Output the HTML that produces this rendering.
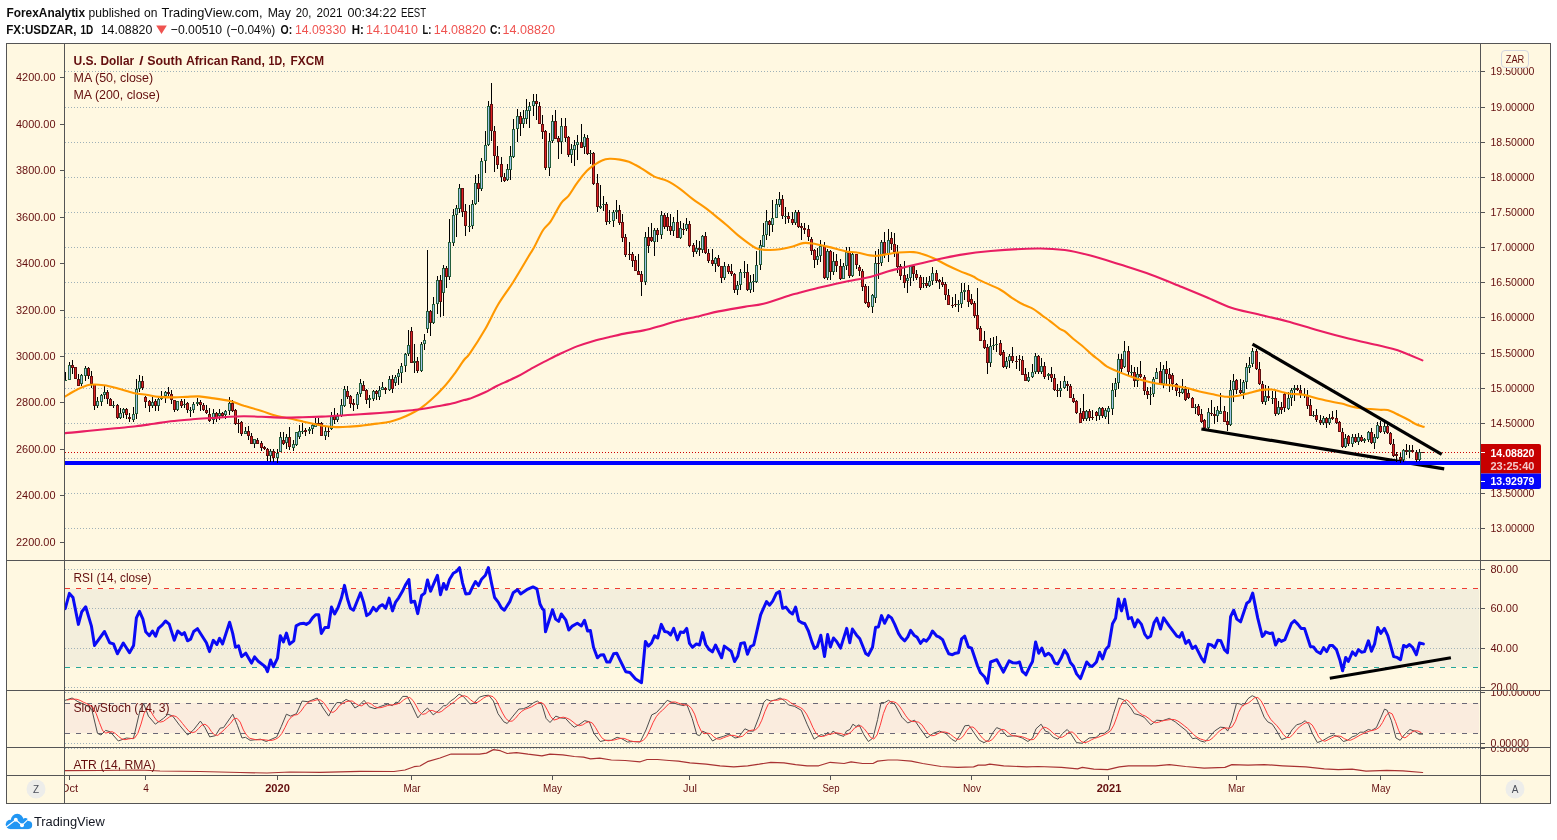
<!DOCTYPE html>
<html><head><meta charset="utf-8"><title>USDZAR chart</title>
<style>html,body{margin:0;padding:0;background:#fff;overflow:hidden}svg{display:block}</style>
</head><body>
<svg width="1557" height="840" viewBox="0 0 1557 840" font-family="'Liberation Sans', sans-serif">
<rect x="0" y="0" width="1557" height="840" fill="#ffffff" />
<rect x="6" y="43" width="1545" height="761" fill="#555555" />
<rect x="7" y="44" width="1543" height="759" fill="#fff8e1" />
<defs>
<clipPath id="cMain"><rect x="65" y="44" width="1415" height="516"/></clipPath>
<clipPath id="cRsi"><rect x="65" y="561" width="1415" height="129"/></clipPath>
<clipPath id="cSto"><rect x="65" y="691" width="1415" height="56"/></clipPath>
<clipPath id="cAtr"><rect x="65" y="748" width="1415" height="27"/></clipPath>
<clipPath id="cStoAx"><rect x="1481" y="691" width="69" height="56"/></clipPath>
<clipPath id="cAtrAx"><rect x="1481" y="748" width="69" height="27"/></clipPath>
<clipPath id="cRsiAx"><rect x="1481" y="561" width="69" height="129"/></clipPath>
<clipPath id="cTime"><rect x="65" y="776" width="1415" height="27"/></clipPath>
</defs>
<line x1="65" y1="71.5" x2="1479" y2="71.5" stroke="#9fb1b8" stroke-width="1" stroke-dasharray="1 2" shape-rendering="crispEdges"/>
<line x1="65" y1="107.5" x2="1479" y2="107.5" stroke="#9fb1b8" stroke-width="1" stroke-dasharray="1 2" shape-rendering="crispEdges"/>
<line x1="65" y1="142.5" x2="1479" y2="142.5" stroke="#9fb1b8" stroke-width="1" stroke-dasharray="1 2" shape-rendering="crispEdges"/>
<line x1="65" y1="177.5" x2="1479" y2="177.5" stroke="#9fb1b8" stroke-width="1" stroke-dasharray="1 2" shape-rendering="crispEdges"/>
<line x1="65" y1="212.5" x2="1479" y2="212.5" stroke="#9fb1b8" stroke-width="1" stroke-dasharray="1 2" shape-rendering="crispEdges"/>
<line x1="65" y1="247.5" x2="1479" y2="247.5" stroke="#9fb1b8" stroke-width="1" stroke-dasharray="1 2" shape-rendering="crispEdges"/>
<line x1="65" y1="282.5" x2="1479" y2="282.5" stroke="#9fb1b8" stroke-width="1" stroke-dasharray="1 2" shape-rendering="crispEdges"/>
<line x1="65" y1="317.5" x2="1479" y2="317.5" stroke="#9fb1b8" stroke-width="1" stroke-dasharray="1 2" shape-rendering="crispEdges"/>
<line x1="65" y1="353.5" x2="1479" y2="353.5" stroke="#9fb1b8" stroke-width="1" stroke-dasharray="1 2" shape-rendering="crispEdges"/>
<line x1="65" y1="388.5" x2="1479" y2="388.5" stroke="#9fb1b8" stroke-width="1" stroke-dasharray="1 2" shape-rendering="crispEdges"/>
<line x1="65" y1="423.5" x2="1479" y2="423.5" stroke="#9fb1b8" stroke-width="1" stroke-dasharray="1 2" shape-rendering="crispEdges"/>
<line x1="65" y1="458.5" x2="1479" y2="458.5" stroke="#9fb1b8" stroke-width="1" stroke-dasharray="1 2" shape-rendering="crispEdges"/>
<line x1="65" y1="493.5" x2="1479" y2="493.5" stroke="#9fb1b8" stroke-width="1" stroke-dasharray="1 2" shape-rendering="crispEdges"/>
<line x1="65" y1="528.5" x2="1479" y2="528.5" stroke="#9fb1b8" stroke-width="1" stroke-dasharray="1 2" shape-rendering="crispEdges"/>
<rect x="65" y="589" width="1414" height="78" fill="#f3eedc" />
<line x1="65" y1="569.5" x2="1479" y2="569.5" stroke="#9fb1b8" stroke-width="1" stroke-dasharray="1 2" shape-rendering="crispEdges"/>
<line x1="65" y1="608.5" x2="1479" y2="608.5" stroke="#9fb1b8" stroke-width="1" stroke-dasharray="1 2" shape-rendering="crispEdges"/>
<line x1="65" y1="648.5" x2="1479" y2="648.5" stroke="#9fb1b8" stroke-width="1" stroke-dasharray="1 2" shape-rendering="crispEdges"/>
<line x1="65" y1="687.5" x2="1479" y2="687.5" stroke="#9fb1b8" stroke-width="1" stroke-dasharray="1 2" shape-rendering="crispEdges"/>
<line x1="65" y1="588.5" x2="1479" y2="588.5" stroke="#ef3b32" stroke-width="1" stroke-dasharray="5 6" shape-rendering="crispEdges"/>
<line x1="65" y1="667.5" x2="1479" y2="667.5" stroke="#26a69a" stroke-width="1" stroke-dasharray="5 6" shape-rendering="crispEdges"/>
<rect x="65" y="703" width="1414" height="30" fill="#faecde" />
<g clip-path="url(#cSto)">
<line x1="65" y1="692.5" x2="1479" y2="692.5" stroke="#9fb1b8" stroke-width="1" stroke-dasharray="1 2" shape-rendering="crispEdges"/>
<line x1="65" y1="743.5" x2="1479" y2="743.5" stroke="#9fb1b8" stroke-width="1" stroke-dasharray="1 2" shape-rendering="crispEdges"/>
</g>
<line x1="65" y1="703.5" x2="1479" y2="703.5" stroke="#6a6876" stroke-width="1" stroke-dasharray="5 6" shape-rendering="crispEdges"/>
<line x1="65" y1="733.5" x2="1479" y2="733.5" stroke="#6a6876" stroke-width="1" stroke-dasharray="5 6" shape-rendering="crispEdges"/>
<line x1="65" y1="748.5" x2="1479" y2="748.5" stroke="#9fb1b8" stroke-width="1" stroke-dasharray="1 2" shape-rendering="crispEdges"/>
<g clip-path="url(#cMain)" id="main">
<line x1="65" y1="452.5" x2="1480" y2="452.5" stroke="#cc0000" stroke-width="1" stroke-dasharray="1 2" shape-rendering="crispEdges"/>
<line x1="1201.4" y1="429" x2="1444.2" y2="468.8" stroke="#000000" stroke-width="3.2"/>
<rect x="65" y="461" width="1415" height="4" fill="#0000ff"/>
<path d="M65 372h1v9h-1zM69 362h1v18h-1zM72 360h1v14h-1zM75 367h1v12h-1zM78 374h1v12h-1zM81 374h1v12h-1zM85 366h1v15h-1zM88 367h1v12h-1zM91 371h1v17h-1zM94 384h1v26h-1zM97 397h1v11h-1zM101 394h1v12h-1zM104 386h1v13h-1zM107 390h1v14h-1zM110 398h1v8h-1zM113 401h1v7h-1zM117 404h1v15h-1zM120 408h1v11h-1zM123 408h1v10h-1zM126 408h1v11h-1zM129 413h1v9h-1zM133 407h1v15h-1zM136 379h1v40h-1zM139 375h1v17h-1zM142 376h1v14h-1zM145 396h1v12h-1zM149 400h1v12h-1zM152 397h1v11h-1zM155 399h1v12h-1zM158 398h1v13h-1zM161 391h1v9h-1zM165 391h1v12h-1zM168 387h1v9h-1zM171 390h1v14h-1zM174 400h1v12h-1zM177 401h1v10h-1zM181 399h1v9h-1zM184 399h1v9h-1zM187 402h1v11h-1zM190 407h1v10h-1zM193 402h1v11h-1zM197 398h1v8h-1zM200 400h1v11h-1zM203 403h1v8h-1zM206 405h1v9h-1zM209 408h1v14h-1zM213 409h1v15h-1zM216 412h1v10h-1zM219 409h1v11h-1zM222 412h1v6h-1zM225 410h1v9h-1zM229 397h1v18h-1zM232 400h1v12h-1zM235 409h1v16h-1zM238 419h1v14h-1zM241 421h1v15h-1zM245 427h1v7h-1zM248 426h1v14h-1zM251 433h1v11h-1zM254 439h1v9h-1zM257 438h1v6h-1zM261 441h1v10h-1zM264 446h1v4h-1zM267 448h1v13h-1zM270 449h1v13h-1zM273 449h1v13h-1zM277 449h1v14h-1zM280 432h1v20h-1zM283 432h1v13h-1zM286 434h1v15h-1zM289 427h1v23h-1zM293 440h1v11h-1zM296 432h1v14h-1zM299 425h1v14h-1zM302 423h1v11h-1zM305 428h1v8h-1zM309 427h1v7h-1zM312 424h1v10h-1zM315 418h1v9h-1zM318 418h1v8h-1zM321 422h1v14h-1zM325 427h1v13h-1zM328 427h1v10h-1zM331 412h1v18h-1zM334 408h1v16h-1zM337 413h1v9h-1zM341 399h1v18h-1zM344 386h1v21h-1zM347 386h1v13h-1zM350 395h1v13h-1zM353 399h1v12h-1zM357 392h1v17h-1zM360 379h1v18h-1zM363 381h1v10h-1zM366 389h1v15h-1zM369 395h1v13h-1zM373 390h1v11h-1zM376 390h1v10h-1zM379 386h1v14h-1zM382 382h1v8h-1zM385 387h1v7h-1zM389 376h1v15h-1zM392 375h1v18h-1zM395 375h1v11h-1zM398 369h1v16h-1zM401 363h1v20h-1zM405 353h1v19h-1zM408 330h1v26h-1zM411 327h1v36h-1zM414 344h1v29h-1zM417 357h1v16h-1zM421 342h1v30h-1zM424 334h1v16h-1zM427 250h1v83h-1zM430 310h1v26h-1zM433 297h1v27h-1zM437 276h1v38h-1zM440 275h1v42h-1zM443 265h1v51h-1zM446 266h1v22h-1zM449 219h1v61h-1zM453 209h1v37h-1zM456 205h1v32h-1zM459 184h1v29h-1zM462 188h1v29h-1zM465 204h1v32h-1zM469 205h1v27h-1zM472 200h1v29h-1zM475 175h1v30h-1zM478 174h1v28h-1zM481 158h1v33h-1zM485 131h1v42h-1zM488 101h1v45h-1zM491 83h1v58h-1zM494 126h1v46h-1zM497 146h1v23h-1zM501 157h1v25h-1zM504 173h1v9h-1zM507 164h1v17h-1zM510 146h1v34h-1zM513 119h1v39h-1zM517 109h1v33h-1zM520 112h1v24h-1zM523 110h1v18h-1zM526 99h1v25h-1zM529 102h1v26h-1zM533 94h1v22h-1zM536 94h1v26h-1zM539 102h1v22h-1zM542 115h1v24h-1zM545 130h1v40h-1zM549 133h1v43h-1zM552 115h1v28h-1zM555 110h1v29h-1zM558 136h1v23h-1zM561 118h1v36h-1zM565 118h1v24h-1zM568 136h1v21h-1zM571 144h1v19h-1zM574 140h1v26h-1zM577 135h1v25h-1zM581 124h1v24h-1zM584 134h1v20h-1zM587 135h1v20h-1zM590 150h1v14h-1zM593 152h1v33h-1zM597 174h1v38h-1zM600 185h1v24h-1zM603 196h1v15h-1zM606 202h1v23h-1zM609 210h1v14h-1zM613 210h1v17h-1zM616 200h1v19h-1zM619 205h1v20h-1zM622 214h1v28h-1zM625 234h1v23h-1zM629 242h1v18h-1zM632 252h1v15h-1zM635 256h1v15h-1zM638 254h1v21h-1zM641 271h1v25h-1zM645 232h1v53h-1zM648 227h1v26h-1zM651 223h1v19h-1zM654 228h1v28h-1zM657 228h1v14h-1zM661 211h1v28h-1zM664 213h1v16h-1zM667 213h1v18h-1zM670 214h1v21h-1zM673 217h1v19h-1zM677 210h1v28h-1zM680 221h1v18h-1zM683 223h1v12h-1zM686 218h1v13h-1zM689 221h1v26h-1zM693 243h1v14h-1zM696 240h1v14h-1zM699 241h1v15h-1zM702 235h1v18h-1zM705 232h1v22h-1zM708 249h1v14h-1zM712 249h1v17h-1zM715 257h1v15h-1zM718 255h1v12h-1zM721 266h1v17h-1zM724 262h1v18h-1zM728 264h1v10h-1zM731 264h1v12h-1zM734 273h1v20h-1zM737 281h1v14h-1zM740 269h1v21h-1zM744 261h1v17h-1zM747 264h1v27h-1zM750 275h1v18h-1zM753 274h1v18h-1zM756 251h1v32h-1zM760 240h1v30h-1zM763 223h1v24h-1zM766 210h1v30h-1zM769 220h1v16h-1zM772 200h1v32h-1zM776 199h1v19h-1zM779 192h1v15h-1zM782 195h1v24h-1zM785 207h1v17h-1zM788 212h1v11h-1zM792 212h1v13h-1zM795 210h1v15h-1zM798 210h1v18h-1zM801 223h1v17h-1zM804 223h1v11h-1zM808 225h1v16h-1zM811 237h1v18h-1zM814 249h1v19h-1zM817 248h1v17h-1zM820 240h1v22h-1zM824 242h1v37h-1zM827 249h1v31h-1zM830 250h1v30h-1zM833 252h1v23h-1zM836 254h1v18h-1zM840 259h1v21h-1zM843 263h1v16h-1zM846 247h1v23h-1zM849 247h1v31h-1zM852 253h1v24h-1zM856 254h1v15h-1zM859 265h1v11h-1zM862 269h1v22h-1zM865 284h1v20h-1zM868 286h1v22h-1zM872 294h1v19h-1zM875 251h1v52h-1zM878 249h1v30h-1zM881 240h1v26h-1zM884 232h1v26h-1zM888 229h1v33h-1zM891 232h1v18h-1zM894 233h1v24h-1zM897 245h1v28h-1zM900 264h1v16h-1zM904 261h1v27h-1zM907 274h1v19h-1zM910 266h1v20h-1zM913 265h1v16h-1zM916 270h1v10h-1zM920 275h1v15h-1zM923 277h1v11h-1zM926 277h1v11h-1zM929 276h1v11h-1zM932 267h1v18h-1zM936 270h1v13h-1zM939 279h1v10h-1zM942 277h1v10h-1zM945 282h1v18h-1zM948 289h1v16h-1zM952 297h1v11h-1zM955 294h1v13h-1zM958 300h1v12h-1zM961 283h1v25h-1zM964 283h1v17h-1zM968 285h1v22h-1zM971 294h1v11h-1zM974 301h1v17h-1zM977 288h1v42h-1zM980 326h1v15h-1zM984 331h1v18h-1zM987 344h1v30h-1zM990 338h1v29h-1zM993 337h1v13h-1zM996 336h1v16h-1zM1000 340h1v16h-1zM1003 350h1v18h-1zM1006 357h1v12h-1zM1009 354h1v14h-1zM1012 347h1v16h-1zM1016 356h1v13h-1zM1019 355h1v16h-1zM1022 356h1v19h-1zM1025 368h1v13h-1zM1028 372h1v10h-1zM1032 364h1v14h-1zM1035 353h1v21h-1zM1038 355h1v19h-1zM1041 358h1v16h-1zM1044 362h1v17h-1zM1048 373h1v7h-1zM1051 367h1v15h-1zM1054 374h1v17h-1zM1057 384h1v13h-1zM1060 381h1v16h-1zM1064 376h1v13h-1zM1067 381h1v10h-1zM1070 384h1v14h-1zM1073 394h1v9h-1zM1076 400h1v14h-1zM1080 408h1v15h-1zM1083 394h1v27h-1zM1086 410h1v11h-1zM1089 409h1v12h-1zM1092 410h1v10h-1zM1096 411h1v10h-1zM1099 407h1v13h-1zM1102 407h1v11h-1zM1105 408h1v11h-1zM1108 406h1v18h-1zM1112 383h1v32h-1zM1115 378h1v19h-1zM1118 354h1v35h-1zM1121 354h1v18h-1zM1124 341h1v27h-1zM1128 346h1v29h-1zM1131 365h1v11h-1zM1134 367h1v20h-1zM1137 367h1v20h-1zM1140 361h1v17h-1zM1144 375h1v20h-1zM1147 387h1v12h-1zM1150 387h1v18h-1zM1153 377h1v20h-1zM1156 368h1v11h-1zM1160 362h1v22h-1zM1163 365h1v23h-1zM1166 361h1v24h-1zM1169 368h1v24h-1zM1172 373h1v17h-1zM1176 383h1v13h-1zM1179 387h1v10h-1zM1182 379h1v15h-1zM1185 386h1v15h-1zM1188 389h1v10h-1zM1192 397h1v11h-1zM1195 404h1v10h-1zM1198 404h1v12h-1zM1201 409h1v14h-1zM1204 419h1v10h-1zM1208 408h1v21h-1zM1211 400h1v16h-1zM1214 407h1v17h-1zM1217 406h1v16h-1zM1220 393h1v21h-1zM1224 406h1v16h-1zM1227 412h1v19h-1zM1230 380h1v46h-1zM1233 374h1v28h-1zM1236 379h1v15h-1zM1240 379h1v15h-1zM1243 380h1v19h-1zM1246 363h1v26h-1zM1249 357h1v16h-1zM1252 348h1v19h-1zM1256 349h1v21h-1zM1259 362h1v23h-1zM1262 381h1v23h-1zM1265 385h1v20h-1zM1268 386h1v15h-1zM1272 391h1v13h-1zM1275 391h1v25h-1zM1278 401h1v14h-1zM1281 402h1v12h-1zM1284 392h1v20h-1zM1288 392h1v18h-1zM1291 388h1v18h-1zM1294 385h1v16h-1zM1297 385h1v6h-1zM1300 385h1v13h-1zM1304 388h1v10h-1zM1307 390h1v19h-1zM1310 399h1v17h-1zM1313 411h1v6h-1zM1316 409h1v13h-1zM1320 415h1v10h-1zM1323 416h1v9h-1zM1326 417h1v11h-1zM1329 414h1v11h-1zM1332 411h1v9h-1zM1336 410h1v14h-1zM1339 421h1v11h-1zM1342 428h1v20h-1zM1345 434h1v14h-1zM1348 435h1v11h-1zM1352 434h1v13h-1zM1355 434h1v9h-1zM1358 433h1v12h-1zM1361 435h1v7h-1zM1364 438h1v5h-1zM1368 431h1v11h-1zM1371 428h1v16h-1zM1374 434h1v15h-1zM1377 422h1v17h-1zM1380 421h1v12h-1zM1384 422h1v12h-1zM1387 424h1v10h-1zM1390 432h1v13h-1zM1393 439h1v18h-1zM1396 452h1v10h-1zM1400 453h1v10h-1zM1403 449h1v13h-1zM1406 444h1v11h-1zM1409 445h1v13h-1zM1412 445h1v7h-1zM1416 450h1v12h-1zM1419 449h1v12h-1zM1422 452h1v1h-1z" fill="#000000" shape-rendering="crispEdges"/>
<path d="M64 380h3v1h-3zM68 365h3v15h-3zM80 375h3v9h-3zM84 368h3v8h-3zM96 401h3v5h-3zM100 395h3v7h-3zM103 392h3v3h-3zM112 405h3v1h-3zM119 413h3v5h-3zM122 409h3v4h-3zM132 414h3v6h-3zM135 389h3v25h-3zM138 381h3v8h-3zM151 402h3v4h-3zM157 399h3v7h-3zM160 396h3v3h-3zM164 392h3v4h-3zM176 401h3v9h-3zM183 404h3v1h-3zM189 410h3v1h-3zM192 404h3v6h-3zM196 402h3v2h-3zM212 413h3v7h-3zM218 413h3v3h-3zM224 411h3v4h-3zM228 403h3v8h-3zM244 431h3v3h-3zM253 439h3v5h-3zM269 451h3v5h-3zM276 453h3v5h-3zM279 437h3v15h-3zM285 437h3v6h-3zM292 444h3v4h-3zM295 432h3v13h-3zM298 431h3v6h-3zM301 431h3v1h-3zM308 429h3v2h-3zM311 425h3v4h-3zM314 423h3v4h-3zM324 431h3v5h-3zM330 416h3v13h-3zM336 416h3v4h-3zM340 405h3v11h-3zM343 389h3v17h-3zM356 394h3v11h-3zM359 383h3v11h-3zM368 398h3v2h-3zM372 391h3v8h-3zM378 390h3v7h-3zM381 387h3v3h-3zM388 379h3v11h-3zM394 377h3v6h-3zM397 373h3v4h-3zM400 366h3v7h-3zM404 354h3v12h-3zM407 345h3v9h-3zM413 361h3v2h-3zM420 344h3v27h-3zM423 340h3v4h-3zM426 311h3v18h-3zM432 304h3v19h-3zM436 280h3v24h-3zM442 268h3v25h-3zM448 242h3v35h-3zM452 215h3v28h-3zM455 208h3v7h-3zM458 188h3v21h-3zM468 226h3v1h-3zM471 204h3v22h-3zM474 183h3v21h-3zM480 161h3v28h-3zM484 145h3v16h-3zM487 106h3v39h-3zM506 169h3v11h-3zM509 156h3v14h-3zM512 129h3v28h-3zM516 116h3v13h-3zM522 118h3v6h-3zM525 110h3v9h-3zM528 106h3v5h-3zM532 101h3v5h-3zM548 141h3v27h-3zM551 121h3v20h-3zM560 126h3v16h-3zM570 149h3v6h-3zM573 145h3v5h-3zM576 142h3v3h-3zM583 137h3v10h-3zM589 153h3v1h-3zM599 206h3v2h-3zM602 204h3v1h-3zM608 221h3v1h-3zM612 212h3v9h-3zM615 210h3v2h-3zM644 237h3v45h-3zM653 230h3v12h-3zM660 215h3v20h-3zM672 222h3v9h-3zM679 228h3v10h-3zM685 224h3v5h-3zM695 248h3v4h-3zM701 236h3v14h-3zM714 258h3v6h-3zM723 266h3v12h-3zM736 285h3v5h-3zM739 272h3v13h-3zM743 272h3v1h-3zM749 282h3v8h-3zM752 281h3v1h-3zM755 265h3v17h-3zM759 245h3v20h-3zM762 235h3v12h-3zM765 221h3v14h-3zM771 218h3v7h-3zM775 204h3v14h-3zM778 199h3v6h-3zM784 216h3v1h-3zM794 212h3v11h-3zM816 256h3v4h-3zM819 246h3v10h-3zM826 251h3v27h-3zM832 261h3v11h-3zM842 266h3v13h-3zM845 252h3v14h-3zM851 254h3v22h-3zM871 295h3v12h-3zM874 263h3v35h-3zM880 242h3v21h-3zM887 240h3v14h-3zM906 278h3v3h-3zM909 266h3v12h-3zM922 283h3v1h-3zM928 281h3v5h-3zM931 273h3v8h-3zM957 304h3v1h-3zM960 292h3v12h-3zM963 290h3v2h-3zM989 346h3v17h-3zM992 345h3v1h-3zM995 344h3v1h-3zM1005 361h3v6h-3zM1008 356h3v5h-3zM1027 377h3v4h-3zM1031 372h3v5h-3zM1034 356h3v16h-3zM1040 366h3v6h-3zM1047 374h3v2h-3zM1059 388h3v3h-3zM1063 381h3v7h-3zM1085 411h3v8h-3zM1098 408h3v8h-3zM1104 410h3v7h-3zM1107 408h3v4h-3zM1111 390h3v19h-3zM1114 383h3v7h-3zM1117 359h3v24h-3zM1123 351h3v16h-3zM1130 372h3v1h-3zM1136 374h3v7h-3zM1149 394h3v1h-3zM1152 379h3v15h-3zM1155 372h3v7h-3zM1162 369h3v15h-3zM1181 389h3v4h-3zM1194 407h3v1h-3zM1207 412h3v16h-3zM1216 410h3v6h-3zM1219 411h3v3h-3zM1229 390h3v35h-3zM1232 381h3v9h-3zM1242 382h3v11h-3zM1245 367h3v15h-3zM1248 365h3v3h-3zM1251 351h3v13h-3zM1264 396h3v6h-3zM1271 398h3v1h-3zM1277 407h3v7h-3zM1287 398h3v11h-3zM1290 390h3v8h-3zM1293 388h3v2h-3zM1312 415h3v1h-3zM1322 418h3v5h-3zM1328 418h3v5h-3zM1344 438h3v9h-3zM1351 437h3v7h-3zM1357 437h3v5h-3zM1363 439h3v2h-3zM1367 432h3v8h-3zM1373 437h3v6h-3zM1376 425h3v13h-3zM1383 426h3v6h-3zM1402 450h3v10h-3zM1408 450h3v2h-3zM1418 452h3v8h-3z" fill="#245f3c" shape-rendering="crispEdges"/>
<path d="M71 365h3v3h-3zM74 367h3v12h-3zM77 379h3v7h-3zM87 368h3v8h-3zM90 376h3v8h-3zM93 384h3v22h-3zM106 392h3v7h-3zM109 399h3v7h-3zM116 405h3v13h-3zM125 409h3v6h-3zM128 417h3v2h-3zM141 381h3v7h-3zM144 397h3v5h-3zM148 401h3v5h-3zM154 401h3v5h-3zM167 392h3v2h-3zM170 394h3v6h-3zM173 400h3v10h-3zM180 401h3v5h-3zM186 403h3v7h-3zM199 402h3v3h-3zM202 405h3v5h-3zM205 410h3v3h-3zM208 414h3v7h-3zM215 413h3v5h-3zM221 413h3v3h-3zM231 403h3v8h-3zM234 410h3v14h-3zM237 423h3v1h-3zM240 422h3v12h-3zM247 431h3v5h-3zM250 436h3v8h-3zM256 440h3v4h-3zM260 443h3v5h-3zM263 447h3v2h-3zM266 449h3v7h-3zM272 451h3v7h-3zM282 440h3v4h-3zM288 437h3v10h-3zM304 430h3v2h-3zM317 423h3v1h-3zM320 423h3v13h-3zM327 431h3v1h-3zM333 416h3v4h-3zM346 391h3v6h-3zM349 396h3v8h-3zM352 403h3v2h-3zM362 385h3v6h-3zM365 390h3v10h-3zM375 391h3v3h-3zM384 388h3v2h-3zM391 379h3v10h-3zM410 331h3v32h-3zM416 361h3v10h-3zM429 311h3v12h-3zM439 280h3v22h-3zM445 268h3v9h-3zM461 188h3v24h-3zM464 211h3v15h-3zM477 183h3v6h-3zM490 104h3v27h-3zM493 131h3v25h-3zM496 156h3v9h-3zM500 164h3v13h-3zM503 177h3v4h-3zM519 116h3v8h-3zM535 101h3v3h-3zM538 106h3v18h-3zM541 124h3v8h-3zM544 131h3v37h-3zM554 121h3v18h-3zM557 138h3v4h-3zM564 126h3v12h-3zM567 137h3v18h-3zM580 142h3v6h-3zM586 138h3v16h-3zM592 153h3v31h-3zM596 183h3v24h-3zM605 204h3v18h-3zM618 210h3v13h-3zM621 222h3v16h-3zM624 237h3v18h-3zM628 254h3v1h-3zM631 254h3v7h-3zM634 260h3v11h-3zM637 271h3v4h-3zM640 274h3v8h-3zM647 237h3v9h-3zM650 237h3v4h-3zM656 230h3v5h-3zM663 215h3v12h-3zM666 217h3v10h-3zM669 226h3v5h-3zM676 222h3v16h-3zM682 229h3v1h-3zM688 224h3v22h-3zM692 245h3v7h-3zM698 248h3v2h-3zM704 236h3v17h-3zM707 253h3v8h-3zM711 260h3v4h-3zM717 258h3v8h-3zM720 266h3v12h-3zM727 266h3v6h-3zM730 271h3v3h-3zM733 274h3v16h-3zM746 272h3v18h-3zM768 221h3v4h-3zM781 199h3v17h-3zM787 216h3v3h-3zM791 219h3v4h-3zM797 212h3v15h-3zM800 226h3v2h-3zM803 228h3v2h-3zM807 229h3v8h-3zM810 239h3v12h-3zM813 250h3v10h-3zM823 246h3v32h-3zM829 251h3v21h-3zM835 261h3v5h-3zM839 266h3v13h-3zM848 252h3v24h-3zM855 254h3v11h-3zM858 267h3v4h-3zM861 271h3v16h-3zM864 286h3v17h-3zM867 302h3v5h-3zM877 263h3v1h-3zM883 242h3v12h-3zM890 238h3v6h-3zM893 244h3v8h-3zM896 252h3v15h-3zM899 266h3v10h-3zM903 275h3v8h-3zM912 266h3v8h-3zM915 274h3v4h-3zM919 277h3v11h-3zM925 283h3v3h-3zM935 273h3v8h-3zM938 280h3v2h-3zM941 282h3v3h-3zM944 284h3v11h-3zM947 295h3v10h-3zM951 305h3v1h-3zM954 304h3v1h-3zM967 290h3v12h-3zM970 299h3v5h-3zM973 303h3v13h-3zM976 315h3v14h-3zM979 328h3v13h-3zM983 340h3v8h-3zM986 347h3v16h-3zM999 343h3v12h-3zM1002 352h3v15h-3zM1011 356h3v5h-3zM1015 361h3v1h-3zM1018 359h3v1h-3zM1021 360h3v15h-3zM1024 374h3v7h-3zM1037 356h3v16h-3zM1043 366h3v11h-3zM1050 374h3v4h-3zM1053 378h3v12h-3zM1056 390h3v1h-3zM1066 384h3v2h-3zM1069 386h3v12h-3zM1072 398h3v4h-3zM1075 401h3v12h-3zM1079 413h3v10h-3zM1082 411h3v8h-3zM1088 411h3v7h-3zM1091 417h3v1h-3zM1095 412h3v4h-3zM1101 408h3v8h-3zM1120 359h3v10h-3zM1127 351h3v21h-3zM1133 372h3v9h-3zM1139 374h3v3h-3zM1143 377h3v14h-3zM1146 391h3v4h-3zM1159 371h3v13h-3zM1165 369h3v5h-3zM1168 374h3v5h-3zM1171 375h3v9h-3zM1175 384h3v7h-3zM1178 392h3v1h-3zM1184 389h3v11h-3zM1187 393h3v5h-3zM1191 398h3v10h-3zM1197 406h3v9h-3zM1200 414h3v8h-3zM1203 420h3v8h-3zM1210 413h3v1h-3zM1213 414h3v2h-3zM1223 411h3v11h-3zM1226 421h3v4h-3zM1235 380h3v10h-3zM1239 390h3v3h-3zM1255 351h3v18h-3zM1258 369h3v15h-3zM1261 384h3v18h-3zM1267 396h3v2h-3zM1274 398h3v16h-3zM1280 407h3v3h-3zM1283 394h3v14h-3zM1296 388h3v2h-3zM1299 390h3v4h-3zM1303 394h3v1h-3zM1306 396h3v10h-3zM1309 405h3v11h-3zM1315 415h3v5h-3zM1319 420h3v3h-3zM1325 418h3v5h-3zM1331 417h3v2h-3zM1335 418h3v5h-3zM1338 422h3v10h-3zM1341 432h3v15h-3zM1347 436h3v8h-3zM1354 437h3v5h-3zM1360 437h3v4h-3zM1370 432h3v11h-3zM1379 426h3v6h-3zM1386 426h3v7h-3zM1389 433h3v11h-3zM1392 444h3v12h-3zM1395 454h3v2h-3zM1399 457h3v3h-3zM1405 450h3v2h-3zM1411 450h3v2h-3zM1415 452h3v8h-3zM1421 452h3v1h-3z" fill="#5e1010" shape-rendering="crispEdges"/>
<path d="M69 366h1v13h-1zM81 376h1v7h-1zM85 369h1v6h-1zM97 402h1v3h-1zM101 396h1v5h-1zM104 393h1v1h-1zM120 414h1v3h-1zM123 410h1v2h-1zM133 415h1v4h-1zM136 390h1v23h-1zM139 382h1v6h-1zM152 403h1v2h-1zM158 400h1v5h-1zM161 397h1v1h-1zM165 393h1v2h-1zM177 402h1v7h-1zM193 405h1v4h-1zM213 414h1v5h-1zM219 414h1v1h-1zM225 412h1v2h-1zM229 404h1v6h-1zM245 432h1v1h-1zM254 440h1v3h-1zM270 452h1v3h-1zM277 454h1v3h-1zM280 438h1v13h-1zM286 438h1v4h-1zM293 445h1v2h-1zM296 433h1v11h-1zM299 432h1v4h-1zM312 426h1v2h-1zM315 424h1v2h-1zM325 432h1v3h-1zM331 417h1v11h-1zM337 417h1v2h-1zM341 406h1v9h-1zM344 390h1v15h-1zM357 395h1v9h-1zM360 384h1v9h-1zM373 392h1v6h-1zM379 391h1v5h-1zM382 388h1v1h-1zM389 380h1v9h-1zM395 378h1v4h-1zM398 374h1v2h-1zM401 367h1v5h-1zM405 355h1v10h-1zM408 346h1v7h-1zM421 345h1v25h-1zM424 341h1v2h-1zM427 312h1v16h-1zM433 305h1v17h-1zM437 281h1v22h-1zM443 269h1v23h-1zM449 243h1v33h-1zM453 216h1v26h-1zM456 209h1v5h-1zM459 189h1v19h-1zM472 205h1v20h-1zM475 184h1v19h-1zM481 162h1v26h-1zM485 146h1v14h-1zM488 107h1v37h-1zM507 170h1v9h-1zM510 157h1v12h-1zM513 130h1v26h-1zM517 117h1v11h-1zM523 119h1v4h-1zM526 111h1v7h-1zM529 107h1v3h-1zM533 102h1v3h-1zM549 142h1v25h-1zM552 122h1v18h-1zM561 127h1v14h-1zM571 150h1v4h-1zM574 146h1v3h-1zM577 143h1v1h-1zM584 138h1v8h-1zM613 213h1v7h-1zM645 238h1v43h-1zM654 231h1v10h-1zM661 216h1v18h-1zM673 223h1v7h-1zM680 229h1v8h-1zM686 225h1v3h-1zM696 249h1v2h-1zM702 237h1v12h-1zM715 259h1v4h-1zM724 267h1v10h-1zM737 286h1v3h-1zM740 273h1v11h-1zM750 283h1v6h-1zM756 266h1v15h-1zM760 246h1v18h-1zM763 236h1v10h-1zM766 222h1v12h-1zM772 219h1v5h-1zM776 205h1v12h-1zM779 200h1v4h-1zM795 213h1v9h-1zM817 257h1v2h-1zM820 247h1v8h-1zM827 252h1v25h-1zM833 262h1v9h-1zM843 267h1v11h-1zM846 253h1v12h-1zM852 255h1v20h-1zM872 296h1v10h-1zM875 264h1v33h-1zM881 243h1v19h-1zM888 241h1v12h-1zM907 279h1v1h-1zM910 267h1v10h-1zM929 282h1v3h-1zM932 274h1v6h-1zM961 293h1v10h-1zM990 347h1v15h-1zM1006 362h1v4h-1zM1009 357h1v3h-1zM1028 378h1v2h-1zM1032 373h1v3h-1zM1035 357h1v14h-1zM1041 367h1v4h-1zM1060 389h1v1h-1zM1064 382h1v5h-1zM1086 412h1v6h-1zM1099 409h1v6h-1zM1105 411h1v5h-1zM1108 409h1v2h-1zM1112 391h1v17h-1zM1115 384h1v5h-1zM1118 360h1v22h-1zM1124 352h1v14h-1zM1137 375h1v5h-1zM1153 380h1v13h-1zM1156 373h1v5h-1zM1163 370h1v13h-1zM1182 390h1v2h-1zM1208 413h1v14h-1zM1217 411h1v4h-1zM1220 412h1v1h-1zM1230 391h1v33h-1zM1233 382h1v7h-1zM1243 383h1v9h-1zM1246 368h1v13h-1zM1249 366h1v1h-1zM1252 352h1v11h-1zM1265 397h1v4h-1zM1278 408h1v5h-1zM1288 399h1v9h-1zM1291 391h1v6h-1zM1323 419h1v3h-1zM1329 419h1v3h-1zM1345 439h1v7h-1zM1352 438h1v5h-1zM1358 438h1v3h-1zM1368 433h1v6h-1zM1374 438h1v4h-1zM1377 426h1v11h-1zM1384 427h1v4h-1zM1403 451h1v8h-1zM1419 453h1v6h-1z" fill="#9fc5ea" shape-rendering="crispEdges"/>
<path d="M72 366h1v1h-1zM75 368h1v10h-1zM78 380h1v5h-1zM88 369h1v6h-1zM91 377h1v6h-1zM94 385h1v20h-1zM107 393h1v5h-1zM110 400h1v5h-1zM117 406h1v11h-1zM126 410h1v4h-1zM142 382h1v5h-1zM145 398h1v3h-1zM149 402h1v3h-1zM155 402h1v3h-1zM171 395h1v4h-1zM174 401h1v8h-1zM181 402h1v3h-1zM187 404h1v5h-1zM200 403h1v1h-1zM203 406h1v3h-1zM206 411h1v1h-1zM209 415h1v5h-1zM216 414h1v3h-1zM222 414h1v1h-1zM232 404h1v6h-1zM235 411h1v12h-1zM241 423h1v10h-1zM248 432h1v3h-1zM251 437h1v6h-1zM257 441h1v2h-1zM261 444h1v3h-1zM267 450h1v5h-1zM273 452h1v5h-1zM283 441h1v2h-1zM289 438h1v8h-1zM321 424h1v11h-1zM334 417h1v2h-1zM347 392h1v4h-1zM350 397h1v6h-1zM363 386h1v4h-1zM366 391h1v8h-1zM376 392h1v1h-1zM392 380h1v8h-1zM411 332h1v30h-1zM417 362h1v8h-1zM430 312h1v10h-1zM440 281h1v20h-1zM446 269h1v7h-1zM462 189h1v22h-1zM465 212h1v13h-1zM478 184h1v4h-1zM491 105h1v25h-1zM494 132h1v23h-1zM497 157h1v7h-1zM501 165h1v11h-1zM504 178h1v2h-1zM520 117h1v6h-1zM536 102h1v1h-1zM539 107h1v16h-1zM542 125h1v6h-1zM545 132h1v35h-1zM555 122h1v16h-1zM558 139h1v2h-1zM565 127h1v10h-1zM568 138h1v16h-1zM581 143h1v4h-1zM587 139h1v14h-1zM593 154h1v29h-1zM597 184h1v22h-1zM606 205h1v16h-1zM619 211h1v11h-1zM622 223h1v14h-1zM625 238h1v16h-1zM632 255h1v5h-1zM635 261h1v9h-1zM638 272h1v2h-1zM641 275h1v6h-1zM648 238h1v7h-1zM651 238h1v2h-1zM657 231h1v3h-1zM664 216h1v10h-1zM667 218h1v8h-1zM670 227h1v3h-1zM677 223h1v14h-1zM689 225h1v20h-1zM693 246h1v5h-1zM705 237h1v15h-1zM708 254h1v6h-1zM712 261h1v2h-1zM718 259h1v6h-1zM721 267h1v10h-1zM728 267h1v4h-1zM731 272h1v1h-1zM734 275h1v14h-1zM747 273h1v16h-1zM769 222h1v2h-1zM782 200h1v15h-1zM788 217h1v1h-1zM792 220h1v2h-1zM798 213h1v13h-1zM808 230h1v6h-1zM811 240h1v10h-1zM814 251h1v8h-1zM824 247h1v30h-1zM830 252h1v19h-1zM836 262h1v3h-1zM840 267h1v11h-1zM849 253h1v22h-1zM856 255h1v9h-1zM859 268h1v2h-1zM862 272h1v14h-1zM865 287h1v15h-1zM868 303h1v3h-1zM884 243h1v10h-1zM891 239h1v4h-1zM894 245h1v6h-1zM897 253h1v13h-1zM900 267h1v8h-1zM904 276h1v6h-1zM913 267h1v6h-1zM916 275h1v2h-1zM920 278h1v9h-1zM926 284h1v1h-1zM936 274h1v6h-1zM942 283h1v1h-1zM945 285h1v9h-1zM948 296h1v8h-1zM968 291h1v10h-1zM971 300h1v3h-1zM974 304h1v11h-1zM977 316h1v12h-1zM980 329h1v11h-1zM984 341h1v6h-1zM987 348h1v14h-1zM1000 344h1v10h-1zM1003 353h1v13h-1zM1012 357h1v3h-1zM1022 361h1v13h-1zM1025 375h1v5h-1zM1038 357h1v14h-1zM1044 367h1v9h-1zM1051 375h1v2h-1zM1054 379h1v10h-1zM1070 387h1v10h-1zM1073 399h1v2h-1zM1076 402h1v10h-1zM1080 414h1v8h-1zM1083 412h1v6h-1zM1089 412h1v5h-1zM1096 413h1v2h-1zM1102 409h1v6h-1zM1121 360h1v8h-1zM1128 352h1v19h-1zM1134 373h1v7h-1zM1140 375h1v1h-1zM1144 378h1v12h-1zM1147 392h1v2h-1zM1160 372h1v11h-1zM1166 370h1v3h-1zM1169 375h1v3h-1zM1172 376h1v7h-1zM1176 385h1v5h-1zM1185 390h1v9h-1zM1188 394h1v3h-1zM1192 399h1v8h-1zM1198 407h1v7h-1zM1201 415h1v6h-1zM1204 421h1v6h-1zM1224 412h1v9h-1zM1227 422h1v2h-1zM1236 381h1v8h-1zM1240 391h1v1h-1zM1256 352h1v16h-1zM1259 370h1v13h-1zM1262 385h1v16h-1zM1275 399h1v14h-1zM1281 408h1v1h-1zM1284 395h1v12h-1zM1300 391h1v2h-1zM1307 397h1v8h-1zM1310 406h1v9h-1zM1316 416h1v3h-1zM1320 421h1v1h-1zM1326 419h1v3h-1zM1336 419h1v3h-1zM1339 423h1v8h-1zM1342 433h1v13h-1zM1348 437h1v6h-1zM1355 438h1v3h-1zM1361 438h1v2h-1zM1371 433h1v9h-1zM1380 427h1v4h-1zM1387 427h1v5h-1zM1390 434h1v9h-1zM1393 445h1v10h-1zM1400 458h1v1h-1zM1416 453h1v6h-1z" fill="#df2222" shape-rendering="crispEdges"/>
<path d="M65.3 396.4C67.2 395.3 72.8 391.6 76.9 389.7C80.9 387.8 85.2 385.6 89.7 384.8C94.2 384.1 99.1 384.6 103.8 385.2C108.6 385.8 113.1 387.1 118.0 388.4C122.9 389.7 128.7 391.8 133.4 392.9C138.1 394.0 142.0 394.2 146.3 394.8C150.5 395.5 154.6 396.5 159.1 396.9C163.6 397.3 168.8 397.4 173.3 397.4C177.8 397.4 181.8 397.1 186.1 396.9C190.4 396.7 194.7 396.2 199.0 396.4C203.2 396.6 206.7 397.3 211.8 398.1C217.0 398.8 224.5 399.7 229.8 401.0C235.2 402.3 238.6 404.1 243.9 405.8C249.3 407.4 256.2 409.3 261.7 411.0C267.2 412.7 272.2 414.7 276.9 415.9C281.5 417.2 285.4 417.6 289.7 418.5C294.0 419.4 298.3 420.5 302.6 421.4C306.8 422.4 311.6 423.5 315.4 424.3C319.3 425.1 322.3 425.7 325.7 426.2C329.1 426.7 332.3 427.0 336.0 427.1C339.6 427.2 343.3 427.1 347.5 426.8C351.8 426.6 356.8 426.1 361.7 425.6C366.6 425.0 372.4 424.3 377.1 423.6C381.8 423.0 386.1 422.6 390.0 421.7C393.8 420.8 396.8 419.8 400.2 418.5C403.7 417.2 407.1 415.7 410.5 414.0C414.0 412.3 417.4 410.6 420.8 408.2C424.2 405.8 427.2 403.4 431.1 399.8C435.0 396.3 440.1 391.3 443.9 387.0C447.8 382.7 450.9 378.6 454.2 374.1C457.6 369.6 461.4 363.4 464.0 360.0C466.6 356.6 466.2 358.8 469.7 353.7C473.2 348.6 480.4 337.4 485.1 329.3C489.8 321.1 493.3 312.8 498.0 304.8C502.7 296.9 508.3 289.8 513.4 281.7C518.5 273.6 525.4 261.7 528.8 256.0C532.2 250.3 531.6 251.9 534.0 247.6C536.3 243.3 540.2 234.7 543.0 230.3C545.7 225.9 547.7 225.8 550.7 221.3C553.7 216.8 558.0 207.6 561.0 203.3C564.0 199.0 565.9 199.1 568.7 195.6C571.4 192.0 574.7 186.1 577.7 182.1C580.7 178.0 583.9 174.0 586.7 171.1C589.4 168.3 591.7 166.8 594.2 165.0C596.8 163.2 599.4 161.5 602.0 160.5C604.5 159.4 606.7 159.0 609.7 158.8C612.7 158.7 616.7 159.1 619.9 159.6C623.2 160.1 626.4 160.9 628.9 161.8C631.5 162.7 633.3 163.9 635.4 165.0C637.5 166.1 638.3 166.3 641.4 168.3C644.6 170.2 650.0 174.5 654.3 176.6C658.6 178.7 662.8 178.8 667.1 180.9C671.4 182.9 675.7 185.8 680.0 188.8C684.3 191.9 688.5 195.9 692.8 199.1C697.1 202.3 701.4 204.9 705.7 208.1C710.0 211.3 715.1 215.6 718.5 218.4C722.0 221.2 723.0 222.0 726.2 224.8C729.5 227.6 733.7 231.8 737.8 235.1C741.9 238.4 747.2 242.4 750.7 244.8C754.1 247.1 755.2 248.2 758.4 249.1C761.6 249.9 766.3 249.9 769.9 250.0C773.6 250.0 776.3 249.8 780.1 249.2C783.9 248.6 789.0 247.5 792.9 246.4C796.7 245.4 799.9 243.6 803.1 243.1C806.3 242.6 808.5 243.0 812.1 243.5C815.8 244.0 820.7 245.1 825.0 246.1C829.3 247.0 834.2 248.3 837.8 249.3C841.5 250.2 843.6 251.0 846.8 251.6C850.1 252.1 853.3 251.8 857.1 252.5C861.0 253.1 866.5 254.9 870.0 255.4C873.4 256.0 874.5 256.0 877.7 255.7C880.9 255.4 885.8 254.3 889.3 253.8C892.7 253.2 894.2 252.8 898.3 252.5C902.3 252.2 909.8 251.9 913.7 252.1C917.5 252.3 918.0 252.7 921.4 253.8C924.8 254.8 930.0 256.6 934.2 258.5C938.5 260.4 942.8 263.2 947.1 265.3C951.4 267.4 955.7 269.3 959.9 271.1C964.2 272.9 969.5 274.7 972.8 276.3C976.1 277.8 975.5 278.2 980.0 280.4C984.5 282.6 994.7 286.6 1000.0 289.5C1005.3 292.4 1007.9 295.3 1011.9 297.9C1015.9 300.4 1020.3 303.0 1023.8 304.8C1027.3 306.5 1029.8 306.8 1032.7 308.6C1035.7 310.3 1038.8 313.0 1041.7 315.1C1044.5 317.2 1047.0 318.8 1050.0 321.1C1053.0 323.3 1057.0 326.8 1059.5 328.6C1062.0 330.3 1062.5 329.6 1064.9 331.4C1067.3 333.2 1070.9 336.9 1073.8 339.3C1076.7 341.7 1079.2 343.2 1082.1 345.7C1085.1 348.2 1088.9 352.0 1091.7 354.4C1094.4 356.8 1096.2 358.0 1098.8 360.0C1101.4 362.0 1104.2 364.8 1107.1 366.7C1110.1 368.5 1112.7 369.4 1116.7 371.1C1120.6 372.7 1126.2 374.8 1130.7 376.4C1135.1 378.0 1139.2 379.3 1143.5 380.5C1147.8 381.7 1151.7 382.7 1156.4 383.5C1161.0 384.3 1166.5 384.7 1171.4 385.4C1176.3 386.1 1181.2 386.9 1185.7 387.8C1190.2 388.8 1194.3 390.1 1198.6 391.2C1202.8 392.2 1206.7 393.0 1211.4 394.0C1216.1 394.9 1222.1 396.6 1226.8 396.8C1231.6 397.1 1235.8 396.2 1239.7 395.5C1243.5 394.8 1246.5 393.6 1250.0 392.7C1253.4 391.8 1256.6 390.7 1260.3 390.1C1263.9 389.6 1268.2 389.2 1271.8 389.5C1275.5 389.8 1279.1 391.3 1282.1 392.1C1285.1 392.8 1286.5 393.3 1290.0 393.7C1293.5 394.2 1298.6 394.0 1302.9 394.6C1307.1 395.3 1311.4 396.8 1315.7 397.9C1320.0 398.9 1324.3 400.1 1328.6 401.1C1332.8 402.0 1337.1 402.6 1341.4 403.6C1345.7 404.6 1350.0 406.3 1354.3 407.1C1358.6 408.0 1362.8 408.3 1367.1 408.8C1371.4 409.2 1376.5 409.6 1380.0 409.8C1383.4 410.0 1384.5 409.2 1387.7 410.1C1390.9 411.0 1395.8 413.6 1399.3 415.2C1402.7 416.8 1405.5 418.2 1408.3 419.7C1411.0 421.2 1413.4 423.0 1416.0 424.2C1418.5 425.4 1422.4 426.3 1423.7 426.8" fill="none" stroke="#ff9800" stroke-width="2.1" stroke-linecap="round"/>
<path d="M65.3 433.1C69.4 432.8 81.4 431.6 89.7 430.8C98.1 430.0 107.7 429.0 115.4 428.3C123.1 427.5 129.6 427.1 136.0 426.3C142.4 425.6 148.2 424.6 154.0 423.8C159.8 422.9 164.3 421.9 170.7 421.2C177.1 420.4 185.7 419.8 192.5 419.3C199.4 418.7 205.6 418.4 211.8 418.0C218.0 417.6 224.5 417.0 229.8 416.7C235.2 416.4 238.6 416.3 243.9 416.3C249.3 416.3 255.1 416.5 261.7 416.8C268.2 417.0 276.5 417.5 283.3 417.6C290.1 417.7 296.1 417.4 302.6 417.2C309.0 417.0 315.4 416.8 321.8 416.6C328.3 416.3 334.7 415.9 341.1 415.5C347.5 415.1 354.0 414.7 360.4 414.2C366.8 413.8 373.3 413.4 379.7 413.0C386.1 412.5 392.5 412.0 399.0 411.4C405.4 410.8 411.8 410.3 418.2 409.5C424.7 408.6 431.9 407.2 437.5 406.3C443.1 405.3 447.5 404.7 451.9 403.6C456.3 402.6 461.0 400.9 464.0 400.1C467.0 399.3 466.5 399.9 470.1 398.6C473.6 397.2 480.6 394.3 485.1 392.2C489.5 390.1 491.5 388.6 496.8 386.0C502.1 383.5 511.3 379.6 516.8 376.8C522.4 374.1 525.7 371.8 530.2 369.3C534.6 366.9 538.5 364.7 543.5 362.1C548.6 359.6 554.7 356.4 560.2 353.8C565.8 351.2 571.4 348.6 576.9 346.4C582.5 344.3 588.1 342.5 593.6 340.9C599.2 339.3 604.8 338.1 610.3 336.8C615.9 335.5 621.5 334.1 627.0 333.1C632.6 332.0 638.2 331.6 643.7 330.4C649.3 329.2 654.9 327.5 660.4 325.9C666.0 324.3 670.5 322.6 677.1 320.9C683.7 319.2 693.1 317.5 700.0 315.9C706.9 314.3 711.2 312.9 718.5 311.4C725.9 309.9 736.7 308.2 744.2 306.9C751.7 305.6 755.9 305.6 763.5 303.7C771.1 301.8 784.1 297.1 790.0 295.3C795.9 293.5 793.9 294.2 798.6 293.0C803.4 291.7 811.0 289.6 818.6 287.8C826.2 286.0 835.7 283.9 844.3 282.0C852.8 280.2 862.5 278.7 870.0 276.9C877.5 275.1 882.8 272.9 889.3 271.1C895.7 269.3 901.0 268.1 908.5 266.2C916.0 264.4 925.7 262.1 934.2 260.2C942.8 258.3 950.5 256.4 960.0 254.9C969.4 253.3 978.0 252.0 990.8 251.0C1003.7 249.9 1024.7 248.6 1037.1 248.5C1049.4 248.3 1056.1 248.9 1064.8 250.0C1073.5 251.2 1080.2 252.9 1089.5 255.3C1098.7 257.7 1110.0 261.3 1120.3 264.5C1130.6 267.8 1140.8 270.9 1151.1 274.7C1161.4 278.4 1172.7 283.3 1181.9 287.0C1191.2 290.8 1198.4 293.8 1206.6 297.2C1214.8 300.6 1223.0 304.9 1231.3 307.7C1239.5 310.5 1246.7 311.6 1255.9 313.8C1265.2 316.1 1276.5 318.5 1286.8 321.2C1297.0 324.0 1307.3 327.3 1317.6 330.2C1327.9 333.1 1338.1 335.9 1348.4 338.5C1358.7 341.1 1371.0 343.6 1379.2 345.6C1387.5 347.6 1390.5 347.8 1397.7 350.2C1404.9 352.7 1418.3 358.7 1422.4 360.4" fill="none" stroke="#e91e63" stroke-width="2.1" stroke-linecap="round"/>
<line x1="1252.5" y1="344.1" x2="1441.7" y2="454.4" stroke="#000000" stroke-width="3.2"/>
</g>
<g clip-path="url(#cRsi)">
<polyline points="65.2,608.6 69.4,593.4 73.0,597.5 78.4,624.4 81.8,611.7 85.7,606.8 91.5,626.4 94.5,645.4 104.5,631.5 109.6,642.7 113.5,643.9 117.4,653.8 123.3,643.0 129.5,652.7 133.6,645.4 136.4,617.9 139.5,611.4 142.9,619.1 145.7,631.8 149.4,635.7 152.5,631.0 155.6,636.2 158.4,628.4 162.3,624.9 165.5,621.0 169.2,624.1 174.3,640.3 177.7,631.0 181.9,634.6 184.4,632.6 187.5,640.8 190.6,639.2 193.7,631.5 197.5,628.7 206.4,642.7 209.5,651.6 213.3,640.3 216.9,644.5 219.5,638.3 222.6,643.9 229.6,622.2 232.7,633.4 235.5,647.3 238.5,645.7 241.6,656.6 245.8,653.2 251.5,663.1 254.6,656.9 258.2,661.2 265.2,666.6 267.5,671.7 270.6,660.0 273.4,666.6 277.5,658.1 280.3,635.7 283.4,641.9 286.5,633.1 289.6,644.2 293.8,640.8 296.1,625.9 300.0,623.8 304.0,623.3 306.3,624.4 309.4,622.5 312.5,617.9 315.6,614.8 318.7,614.8 321.3,633.4 324.9,627.5 328.4,627.5 331.5,607.1 334.6,614.0 338.0,607.8 341.4,598.1 344.5,585.4 347.6,599.3 350.4,608.3 353.5,610.2 360.5,592.8 363.6,602.4 366.7,615.6 369.8,613.6 373.3,607.4 376.4,610.9 379.5,606.3 382.6,604.7 385.7,608.3 389.1,598.1 392.5,610.9 395.6,602.1 398.7,597.8 402.3,591.6 405.4,585.1 408.9,579.5 411.1,602.4 414.6,601.2 417.7,613.6 421.6,595.5 424.7,593.1 427.5,580.0 430.6,591.3 434.0,583.1 437.4,575.3 440.5,594.7 443.6,583.5 446.4,589.3 449.5,579.5 453.3,573.3 456.4,571.5 459.5,567.6 462.6,583.1 465.7,593.9 469.6,593.4 472.7,586.6 475.5,581.5 478.5,585.7 481.6,579.2 485.4,575.3 488.4,567.6 491.5,583.1 494.6,597.5 498.2,602.1 501.3,607.8 504.4,610.2 509.8,601.6 513.2,592.8 517.5,589.7 520.6,593.9 526.8,589.7 533.0,586.9 536.9,588.8 540.0,604.0 542.3,608.6 544.0,610.2 545.5,631.8 552.5,609.8 555.6,619.1 558.7,621.3 561.3,614.0 565.7,619.8 568.8,630.0 571.9,626.4 577.3,623.3 581.4,625.9 584.5,620.2 587.6,631.0 590.4,630.6 593.5,647.3 597.4,657.8 600.5,655.0 603.6,654.7 606.7,662.0 609.8,662.0 613.6,653.8 616.7,653.2 619.8,659.7 625.7,671.7 629.9,672.4 635.6,679.0 641.5,682.6 645.4,641.4 648.4,646.1 651.5,643.0 654.6,635.7 657.7,638.0 661.3,624.4 664.7,631.5 667.8,632.1 670.6,634.9 673.7,628.4 677.4,639.9 680.5,632.1 683.6,632.6 686.7,628.4 689.5,643.4 692.5,647.3 696.4,643.9 699.5,645.0 702.6,632.6 705.7,644.5 708.8,649.2 712.4,651.9 715.5,645.0 721.6,657.8 724.3,646.1 731.2,651.2 734.6,661.5 737.7,656.3 740.8,643.4 744.4,642.7 747.5,654.3 750.6,646.5 753.7,645.0 760.6,614.8 766.5,601.6 769.6,605.2 772.7,601.2 776.4,593.4 779.5,591.6 782.6,608.3 784.0,607.8 785.9,607.1 789.4,611.7 792.5,614.0 795.6,607.1 798.7,620.7 801.8,622.8 804.9,623.8 808.4,631.0 811.9,641.9 814.5,648.5 817.3,646.5 820.8,635.2 824.5,656.6 827.6,634.6 830.4,647.0 833.5,638.0 836.6,641.4 840.5,648.1 846.7,628.4 849.8,642.7 852.4,629.0 856.4,634.9 859.8,638.8 865.7,653.5 868.3,655.3 872.5,647.3 875.6,627.2 878.4,626.9 881.5,615.6 884.6,623.3 888.4,615.6 891.5,617.9 894.6,624.1 898.5,633.4 901.3,637.7 904.7,640.8 907.8,636.8 910.6,630.3 914.0,635.2 917.1,637.2 920.5,643.4 923.6,639.6 926.4,641.1 929.5,637.2 932.5,631.0 936.9,636.2 939.5,637.2 942.6,639.6 945.7,647.3 948.8,653.8 952.4,654.7 955.5,653.2 958.5,652.7 961.6,638.8 964.7,636.2 968.4,647.0 971.5,648.1 977.4,665.6 980.5,672.8 984.4,676.7 987.5,683.2 990.6,662.0 996.8,659.7 1003.4,672.1 1009.1,660.9 1013.0,662.8 1016.4,663.1 1019.5,662.0 1022.3,671.3 1024.0,672.8 1025.9,674.8 1029.4,667.4 1032.5,661.5 1035.6,641.9 1038.7,653.2 1041.8,648.1 1044.9,655.8 1048.4,653.2 1051.5,655.8 1054.9,663.1 1057.7,664.0 1061.1,658.1 1064.5,650.1 1067.6,654.7 1070.4,662.5 1073.5,666.2 1076.6,673.9 1080.5,678.6 1086.7,662.0 1089.8,665.6 1092.4,666.2 1096.4,662.0 1099.5,652.2 1102.6,658.9 1105.7,649.6 1108.8,646.1 1112.5,623.8 1115.6,618.2 1118.4,599.0 1121.5,610.9 1124.6,599.3 1128.4,618.7 1131.5,617.6 1134.6,626.9 1137.7,619.8 1141.3,624.1 1144.7,634.1 1147.5,638.0 1150.6,636.2 1154.0,622.8 1156.8,618.2 1160.5,629.0 1163.6,617.9 1169.5,626.4 1176.9,636.2 1179.5,637.2 1182.1,632.6 1185.7,643.4 1188.8,640.3 1192.4,648.5 1195.5,646.1 1201.6,658.4 1204.3,662.0 1208.4,644.2 1211.5,645.0 1214.6,647.6 1217.7,640.3 1220.8,640.8 1224.4,649.6 1227.5,652.7 1230.6,616.7 1233.7,610.2 1236.8,619.1 1240.6,621.8 1246.8,603.2 1249.6,601.2 1252.7,593.1 1257.7,617.9 1262.3,636.5 1264.0,634.9 1265.5,631.8 1269.4,633.4 1272.5,633.1 1275.6,645.0 1278.7,639.2 1281.3,641.4 1284.9,639.6 1291.5,623.3 1294.5,620.7 1298.0,624.4 1301.1,628.4 1304.5,628.4 1310.4,646.5 1313.5,647.0 1316.6,651.2 1320.5,653.5 1323.6,647.6 1326.7,651.6 1329.8,645.4 1332.4,645.4 1336.4,649.6 1339.8,659.7 1342.6,670.8 1345.7,657.4 1348.3,661.5 1352.5,651.9 1355.6,655.3 1358.4,649.6 1361.5,652.2 1364.6,651.6 1368.4,640.8 1371.5,651.2 1374.6,643.9 1377.7,627.5 1380.8,633.4 1384.4,628.4 1387.8,635.7 1393.7,656.6 1397.1,657.4 1400.5,659.7 1403.6,645.4 1406.4,647.0 1409.5,644.5 1412.5,647.3 1416.4,654.7 1419.5,643.0 1423.4,643.9" fill="none" stroke="#0a0af5" stroke-width="3" stroke-linejoin="round" stroke-linecap="round" />
<line x1="1329.8" y1="678.2" x2="1450.9" y2="657.8" stroke="#000000" stroke-width="3"/>
</g>
<g clip-path="url(#cSto)">
<polyline points="65.2,700.3 72.1,698.0 77.9,701.7 87.1,705.7 91.7,709.1 97.5,733.4 101.0,735.0 105.6,730.4 110.2,731.8 118.3,741.0 126.4,738.0 133.4,738.7 140.3,709.1 143.8,704.0 148.4,716.1 155.3,724.2 163.4,718.4 168.0,714.2 172.7,716.1 179.6,725.3 187.7,735.0 193.5,729.9 200.4,721.1 205.0,727.6 209.7,736.9 215.4,735.7 220.1,728.1 223.5,727.6 232.8,714.2 237.4,725.3 242.0,738.0 245.5,737.3 250.1,740.3 260.5,739.2 266.3,741.5 276.7,736.9 281.3,726.5 286.4,714.2 290.6,716.1 296.4,713.7 302.2,701.0 307.9,701.7 317.2,698.0 323.0,708.0 328.7,716.1 332.2,709.1 336.8,702.6 341.5,702.6 346.1,699.4 350.7,701.7 354.9,708.0 358.8,705.7 364.1,700.3 369.2,706.8 375.0,708.7 380.8,706.3 387.7,704.0 392.3,705.7 395.8,702.2 398.1,702.6 402.7,696.4 407.4,696.4 412.0,705.7 417.8,717.9 422.4,712.6 424.0,711.0 427.5,708.0 433.2,714.9 439.0,710.3 443.7,705.7 446.0,705.7 450.6,701.0 454.1,698.7 459.1,694.1 463.3,696.4 470.2,704.0 473.7,703.3 479.5,697.1 484.1,695.7 488.7,695.2 493.4,701.0 498.0,713.7 503.8,721.8 507.2,723.5 513.0,716.1 518.8,709.1 523.4,708.7 528.0,706.8 533.8,702.6 537.3,701.0 541.9,704.5 546.1,718.4 550.0,722.5 555.8,716.1 560.4,717.9 565.5,718.4 570.8,724.2 574.3,727.2 578.9,724.8 584.7,720.7 589.3,721.8 593.9,733.4 600.2,741.5 605.5,740.3 611.3,740.3 617.1,737.3 621.7,738.7 627.5,742.0 633.2,741.5 640.2,742.0 646.0,729.9 651.7,714.9 656.4,712.6 662.2,706.3 667.2,700.3 672.6,702.6 678.3,704.5 684.1,705.7 686.4,703.3 692.2,718.4 696.8,734.6 699.6,735.7 702.6,731.1 707.2,733.4 712.6,741.0 717.6,738.0 723.4,736.4 729.2,734.1 735.0,738.0 738.5,737.3 744.9,728.8 750.0,731.1 753.5,731.1 759.3,716.1 763.9,702.2 766.7,699.4 770.8,701.0 775.4,699.9 780.1,698.0 784.0,700.3 788.6,705.0 794.4,706.3 801.3,710.3 807.1,724.2 814.1,739.2 821.0,734.6 824.5,735.7 827.9,732.2 830.2,735.0 833.0,731.1 838.3,734.6 843.7,736.4 846.4,731.1 849.9,729.5 852.9,724.2 856.1,726.5 859.1,724.8 863.8,734.6 868.4,741.5 873.0,738.0 877.6,719.5 881.1,702.6 884.6,702.6 888.5,700.3 895.0,704.5 901.9,717.2 907.7,723.0 914.6,720.2 920.4,728.8 926.9,738.0 933.1,733.4 939.4,731.1 945.8,733.4 951.6,739.2 955.6,741.5 959.7,735.7 964.8,725.8 969.0,725.3 973.6,732.2 979.4,740.3 984.0,742.6 988.6,740.3 993.2,732.2 996.7,727.6 1001.3,729.5 1007.1,736.4 1015.2,735.7 1022.2,738.0 1027.9,741.5 1032.6,738.0 1036.0,728.8 1041.1,724.2 1045.3,731.1 1048.7,732.2 1053.4,737.3 1058.0,739.2 1062.6,733.4 1067.2,729.5 1070.7,733.4 1076.5,742.6 1082.3,743.3 1089.2,738.0 1096.1,737.3 1100.8,733.4 1104.2,733.4 1108.9,729.9 1113.5,713.7 1118.6,698.0 1123.9,699.9 1130.8,708.0 1134.3,713.7 1138.9,714.9 1144.0,717.2 1150.9,724.8 1156.7,720.2 1162.5,720.7 1169.4,718.4 1175.2,721.8 1181.0,726.5 1186.8,731.1 1192.6,738.7 1196.0,738.0 1200.6,741.0 1204.6,742.0 1208.7,738.0 1214.5,731.1 1220.3,727.2 1224.9,727.6 1227.7,731.1 1231.9,720.7 1236.5,703.3 1240.0,704.0 1243.4,705.7 1248.0,698.7 1252.2,695.7 1256.1,697.6 1259.6,705.7 1264.2,717.2 1267.7,721.8 1272.3,724.2 1276.9,731.1 1281.6,739.6 1287.4,737.3 1292.0,729.9 1296.6,724.8 1301.2,723.5 1305.2,720.7 1308.6,724.2 1312.3,733.4 1317.4,742.6 1323.2,740.3 1329.0,736.9 1333.6,735.0 1339.4,737.3 1343.3,741.5 1347.5,740.3 1352.1,736.9 1355.6,735.7 1360.2,732.2 1363.7,732.2 1368.3,729.5 1371.7,730.4 1376.4,727.6 1381.0,717.2 1384.5,709.1 1387.2,710.3 1391.4,720.7 1396.0,738.0 1400.2,740.3 1404.1,735.0 1409.9,729.5 1414.5,731.1 1419.1,734.1 1422.6,734.1" fill="none" stroke="#4d4d4d" stroke-width="1" stroke-linejoin="round" stroke-linecap="round" />
<polyline points="67.4,699.9 70.6,699.4 73.8,699.1 77.0,699.3 80.2,700.4 83.4,702.2 86.6,703.6 89.8,705.2 93.0,707.4 96.2,713.6 99.4,722.5 102.6,730.6 105.8,733.1 109.0,732.2 112.2,731.7 115.4,733.5 118.6,736.5 121.8,738.9 125.0,739.7 128.2,739.0 131.4,738.5 134.6,738.1 137.8,733.4 141.0,724.1 144.2,713.1 147.4,708.7 150.6,711.1 153.8,716.5 157.0,720.8 160.2,722.1 163.4,721.4 166.6,719.0 169.8,716.7 173.0,715.6 176.2,716.6 179.4,719.6 182.6,723.6 185.8,727.6 189.0,731.3 192.2,732.7 195.4,731.8 198.6,728.5 201.8,725.1 205.0,724.2 208.2,726.6 211.4,731.6 214.6,734.9 217.8,735.4 221.0,732.6 224.2,729.8 227.4,726.4 230.6,723.3 233.8,718.8 237.0,718.3 240.2,722.1 243.4,730.0 246.6,735.2 249.8,738.3 253.0,739.0 256.2,739.8 259.4,739.8 262.6,739.6 265.8,740.0 269.0,740.4 272.2,740.3 275.4,739.3 278.6,737.4 281.8,733.5 285.0,727.5 288.2,720.8 291.4,716.9 294.6,715.1 297.8,714.5 301.0,711.1 304.2,706.6 307.4,702.8 310.6,701.2 313.8,700.8 317.0,699.8 320.2,699.9 323.4,702.3 326.6,706.7 329.8,711.5 333.0,712.4 336.2,710.1 339.4,705.7 342.6,703.4 345.8,701.8 349.0,701.1 352.2,701.0 355.4,703.4 358.6,705.4 361.8,705.8 365.0,703.5 368.2,702.8 371.4,704.0 374.6,706.6 377.8,707.8 381.0,707.6 384.2,706.7 387.4,705.6 390.6,704.9 393.8,704.8 397.0,704.0 400.2,702.9 403.4,700.1 406.6,698.1 409.8,697.5 413.0,700.5 416.2,705.8 419.4,711.8 422.6,714.4 425.8,713.6 429.0,710.8 432.2,710.4 435.4,711.7 438.6,712.6 441.8,711.3 445.0,708.5 448.2,706.2 451.4,703.8 454.6,701.6 457.8,698.8 461.0,696.6 464.2,695.7 467.4,696.9 470.6,699.8 473.8,702.2 477.0,702.6 480.2,700.6 483.4,698.2 486.6,696.4 489.8,695.7 493.0,696.7 496.2,700.2 499.4,706.6 502.6,713.1 505.8,718.5 509.0,721.2 512.2,721.1 515.4,718.4 518.6,714.4 521.8,711.3 525.0,709.3 528.2,708.2 531.4,706.9 534.6,705.0 537.8,703.1 541.0,702.4 544.2,704.4 547.4,710.2 550.6,716.5 553.8,720.1 557.0,719.2 560.2,717.7 563.4,717.2 566.6,718.0 569.8,719.5 573.0,721.9 576.2,724.6 579.4,725.7 582.6,724.9 585.8,722.9 589.0,721.7 592.2,722.9 595.4,727.3 598.6,732.9 601.8,737.8 605.0,740.1 608.2,740.8 611.4,740.4 614.6,739.9 617.8,739.0 621.0,738.3 624.2,738.4 627.4,739.7 630.6,740.9 633.8,741.6 637.0,741.7 640.2,741.7 643.4,740.3 646.6,736.6 649.8,730.2 653.0,722.7 656.2,716.8 659.4,712.8 662.6,710.2 665.8,706.9 669.0,703.6 672.2,702.0 675.4,702.0 678.6,703.2 681.8,704.2 685.0,705.0 688.2,705.3 691.4,708.2 694.6,714.1 697.8,723.8 701.0,730.9 704.2,733.6 707.4,733.2 710.6,733.7 713.8,736.9 717.0,738.9 720.2,739.2 723.4,737.8 726.6,736.6 729.8,735.5 733.0,735.3 736.2,736.1 739.4,737.1 742.6,736.2 745.8,733.1 749.0,730.8 752.2,730.1 755.4,730.0 758.6,726.7 761.8,720.2 765.0,711.3 768.2,704.4 771.4,700.9 774.6,700.3 777.8,700.2 781.0,699.2 784.2,699.1 787.4,700.2 790.6,702.6 793.8,704.6 797.0,706.1 800.2,707.4 803.4,709.7 806.6,714.1 809.8,720.4 813.0,727.7 816.2,733.6 819.4,736.5 822.6,736.5 825.8,735.5 829.0,734.2 832.2,733.8 835.4,732.7 838.6,733.2 841.8,733.8 845.0,735.1 848.2,734.0 851.4,731.7 854.6,728.0 857.8,726.4 861.0,725.8 864.2,728.7 867.4,732.8 870.6,737.5 873.8,739.1 877.0,735.0 880.2,725.4 883.4,713.6 886.6,705.5 889.8,701.7 893.0,701.7 896.2,702.7 899.4,706.1 902.6,710.8 905.8,715.8 909.0,719.9 912.2,721.5 915.4,721.6 918.6,722.2 921.8,724.7 925.0,729.3 928.2,733.7 931.4,735.7 934.6,735.5 937.8,733.6 941.0,732.2 944.2,731.9 947.4,732.6 950.6,734.5 953.8,737.0 957.0,739.3 960.2,739.1 963.4,735.9 966.6,730.9 969.8,727.2 973.0,727.0 976.2,729.9 979.4,734.4 982.6,738.3 985.8,740.9 989.0,741.4 992.2,739.6 995.4,735.7 998.6,731.5 1001.8,729.3 1005.0,730.0 1008.2,732.8 1011.4,735.1 1014.6,736.1 1017.8,736.1 1021.0,736.5 1024.2,737.4 1027.4,738.8 1030.6,739.8 1033.8,739.4 1037.0,735.5 1040.2,730.7 1043.4,727.0 1046.6,727.8 1049.8,729.9 1053.0,733.1 1056.2,735.4 1059.4,737.5 1062.6,737.1 1065.8,735.0 1069.0,732.2 1072.2,732.0 1075.4,734.6 1078.6,738.8 1081.8,741.8 1085.0,742.7 1088.2,741.6 1091.4,739.8 1094.6,738.3 1097.8,737.4 1101.0,736.1 1104.2,734.7 1107.4,733.1 1110.6,730.8 1113.8,725.1 1117.0,716.5 1120.2,706.8 1123.4,701.2 1126.6,699.8 1129.8,702.3 1133.0,705.8 1136.2,709.8 1139.4,712.9 1142.6,715.0 1145.8,716.3 1149.0,718.6 1152.2,721.4 1155.4,722.8 1158.6,722.3 1161.8,721.0 1165.0,720.3 1168.2,719.9 1171.4,719.4 1174.6,719.6 1177.8,721.0 1181.0,723.2 1184.2,725.7 1187.4,728.2 1190.6,731.3 1193.8,734.8 1197.0,737.2 1200.2,738.9 1203.4,739.9 1206.6,740.8 1209.8,740.1 1213.0,737.7 1216.2,734.2 1219.4,731.1 1222.6,728.8 1225.8,727.8 1229.0,728.4 1232.2,726.8 1235.4,721.3 1238.6,712.4 1241.8,706.4 1245.0,704.3 1248.2,703.1 1251.4,700.6 1254.6,697.8 1257.8,697.5 1261.0,700.7 1264.2,706.8 1267.4,713.8 1270.6,719.2 1273.8,722.6 1277.0,725.8 1280.2,729.9 1283.4,734.7 1286.6,737.5 1289.8,737.5 1293.0,734.3 1296.2,730.4 1299.4,726.9 1302.6,724.6 1305.8,722.8 1309.0,722.6 1312.2,725.0 1315.4,730.4 1318.6,736.8 1321.8,740.3 1325.0,741.2 1328.2,739.7 1331.4,738.0 1334.6,736.4 1337.8,735.9 1341.0,736.4 1344.2,738.6 1347.4,740.0 1350.6,740.2 1353.8,738.7 1357.0,736.9 1360.2,735.0 1363.4,733.5 1366.6,732.1 1369.8,731.0 1373.0,730.3 1376.2,729.4 1379.4,727.2 1382.6,722.4 1385.8,716.0 1389.0,712.4 1392.2,713.9 1395.4,721.4 1398.6,730.3 1401.8,736.8 1405.0,737.9 1408.2,735.6 1411.4,732.3 1414.6,730.8 1417.8,731.0 1421.0,732.5" fill="none" stroke="#ff3b3b" stroke-width="1" stroke-linejoin="round" stroke-linecap="round" />
</g>
<g clip-path="url(#cAtr)">
<polyline points="65.0,770.7 100.0,770.5 140.0,770.0 160.0,771.0 200.0,771.5 240.0,772.5 267.0,773.0 290.0,772.0 320.0,772.3 360.0,771.3 394.0,771.5 405.0,770.0 414.0,766.7 420.0,766.0 427.4,761.7 440.0,758.0 451.0,754.0 450.6,754.2 465.6,754.2 479.5,754.2 486.4,753.1 493.4,749.6 500.3,750.7 507.2,753.5 516.5,752.6 528.0,754.2 541.9,755.8 550.0,754.2 562.7,754.9 574.3,756.5 583.5,757.2 590.5,758.8 599.7,758.1 611.3,760.0 625.2,760.5 640.2,761.8 647.1,759.5 657.5,759.5 669.1,760.5 678.3,761.1 689.9,762.8 706.1,764.2 720.0,765.8 733.8,766.9 747.7,765.8 759.3,764.2 770.8,762.3 784.0,762.8 795.6,764.6 807.1,765.8 818.7,765.8 830.2,762.3 844.1,763.5 851.1,761.8 862.6,763.5 873.0,763.5 877.6,761.1 888.0,760.0 897.3,760.0 911.2,761.1 922.7,763.5 941.2,766.5 957.4,767.4 973.6,766.9 978.2,765.1 985.2,765.1 989.8,764.2 1003.7,765.8 1026.8,766.9 1038.3,766.5 1061.5,767.4 1077.6,768.8 1082.3,767.4 1093.8,769.2 1107.7,769.7 1119.3,766.9 1128.5,765.8 1144.0,765.8 1155.6,765.8 1169.4,764.6 1185.6,766.5 1204.1,768.1 1224.9,767.4 1231.9,764.6 1248.0,765.1 1264.2,764.6 1282.7,765.8 1305.8,766.9 1324.3,768.8 1338.2,769.7 1352.1,769.2 1366.0,771.1 1386.8,770.4 1403.0,770.9 1422.6,772.5" fill="none" stroke="#a83232" stroke-width="1.2" stroke-linejoin="round" stroke-linecap="round" />
</g>
<rect x="6" y="560" width="1545" height="1" fill="#555555" />
<rect x="6" y="690" width="1545" height="1" fill="#555555" />
<rect x="6" y="747" width="1545" height="1" fill="#555555" />
<rect x="6" y="775" width="1545" height="1" fill="#555555" />
<rect x="64" y="43" width="1" height="761" fill="#555555" />
<rect x="1480" y="43" width="1" height="761" fill="#555555" />
<rect x="60" y="77" width="4" height="1" fill="#555555" />
<text x="55.5" y="81" font-size="11" fill="#640e0e" text-anchor="end" font-weight="normal" textLength="39.5" lengthAdjust="spacingAndGlyphs" >4200.00</text>
<rect x="60" y="124" width="4" height="1" fill="#555555" />
<text x="55.5" y="128" font-size="11" fill="#640e0e" text-anchor="end" font-weight="normal" textLength="39.5" lengthAdjust="spacingAndGlyphs" >4000.00</text>
<rect x="60" y="170" width="4" height="1" fill="#555555" />
<text x="55.5" y="174" font-size="11" fill="#640e0e" text-anchor="end" font-weight="normal" textLength="39.5" lengthAdjust="spacingAndGlyphs" >3800.00</text>
<rect x="60" y="217" width="4" height="1" fill="#555555" />
<text x="55.5" y="221" font-size="11" fill="#640e0e" text-anchor="end" font-weight="normal" textLength="39.5" lengthAdjust="spacingAndGlyphs" >3600.00</text>
<rect x="60" y="263" width="4" height="1" fill="#555555" />
<text x="55.5" y="267" font-size="11" fill="#640e0e" text-anchor="end" font-weight="normal" textLength="39.5" lengthAdjust="spacingAndGlyphs" >3400.00</text>
<rect x="60" y="310" width="4" height="1" fill="#555555" />
<text x="55.5" y="314" font-size="11" fill="#640e0e" text-anchor="end" font-weight="normal" textLength="39.5" lengthAdjust="spacingAndGlyphs" >3200.00</text>
<rect x="60" y="356" width="4" height="1" fill="#555555" />
<text x="55.5" y="360" font-size="11" fill="#640e0e" text-anchor="end" font-weight="normal" textLength="39.5" lengthAdjust="spacingAndGlyphs" >3000.00</text>
<rect x="60" y="402" width="4" height="1" fill="#555555" />
<text x="55.5" y="406" font-size="11" fill="#640e0e" text-anchor="end" font-weight="normal" textLength="39.5" lengthAdjust="spacingAndGlyphs" >2800.00</text>
<rect x="60" y="449" width="4" height="1" fill="#555555" />
<text x="55.5" y="453" font-size="11" fill="#640e0e" text-anchor="end" font-weight="normal" textLength="39.5" lengthAdjust="spacingAndGlyphs" >2600.00</text>
<rect x="60" y="495" width="4" height="1" fill="#555555" />
<text x="55.5" y="499" font-size="11" fill="#640e0e" text-anchor="end" font-weight="normal" textLength="39.5" lengthAdjust="spacingAndGlyphs" >2400.00</text>
<rect x="60" y="542" width="4" height="1" fill="#555555" />
<text x="55.5" y="546" font-size="11" fill="#640e0e" text-anchor="end" font-weight="normal" textLength="39.5" lengthAdjust="spacingAndGlyphs" >2200.00</text>
<rect x="1481" y="71" width="4" height="1" fill="#555555" />
<text x="1490.5" y="75" font-size="11" fill="#640e0e" text-anchor="start" font-weight="normal" textLength="44" lengthAdjust="spacingAndGlyphs" >19.50000</text>
<rect x="1481" y="107" width="4" height="1" fill="#555555" />
<text x="1490.5" y="111" font-size="11" fill="#640e0e" text-anchor="start" font-weight="normal" textLength="44" lengthAdjust="spacingAndGlyphs" >19.00000</text>
<rect x="1481" y="142" width="4" height="1" fill="#555555" />
<text x="1490.5" y="146" font-size="11" fill="#640e0e" text-anchor="start" font-weight="normal" textLength="44" lengthAdjust="spacingAndGlyphs" >18.50000</text>
<rect x="1481" y="177" width="4" height="1" fill="#555555" />
<text x="1490.5" y="181" font-size="11" fill="#640e0e" text-anchor="start" font-weight="normal" textLength="44" lengthAdjust="spacingAndGlyphs" >18.00000</text>
<rect x="1481" y="212" width="4" height="1" fill="#555555" />
<text x="1490.5" y="216" font-size="11" fill="#640e0e" text-anchor="start" font-weight="normal" textLength="44" lengthAdjust="spacingAndGlyphs" >17.50000</text>
<rect x="1481" y="247" width="4" height="1" fill="#555555" />
<text x="1490.5" y="251" font-size="11" fill="#640e0e" text-anchor="start" font-weight="normal" textLength="44" lengthAdjust="spacingAndGlyphs" >17.00000</text>
<rect x="1481" y="282" width="4" height="1" fill="#555555" />
<text x="1490.5" y="286" font-size="11" fill="#640e0e" text-anchor="start" font-weight="normal" textLength="44" lengthAdjust="spacingAndGlyphs" >16.50000</text>
<rect x="1481" y="317" width="4" height="1" fill="#555555" />
<text x="1490.5" y="321" font-size="11" fill="#640e0e" text-anchor="start" font-weight="normal" textLength="44" lengthAdjust="spacingAndGlyphs" >16.00000</text>
<rect x="1481" y="353" width="4" height="1" fill="#555555" />
<text x="1490.5" y="357" font-size="11" fill="#640e0e" text-anchor="start" font-weight="normal" textLength="44" lengthAdjust="spacingAndGlyphs" >15.50000</text>
<rect x="1481" y="388" width="4" height="1" fill="#555555" />
<text x="1490.5" y="392" font-size="11" fill="#640e0e" text-anchor="start" font-weight="normal" textLength="44" lengthAdjust="spacingAndGlyphs" >15.00000</text>
<rect x="1481" y="423" width="4" height="1" fill="#555555" />
<text x="1490.5" y="427" font-size="11" fill="#640e0e" text-anchor="start" font-weight="normal" textLength="44" lengthAdjust="spacingAndGlyphs" >14.50000</text>
<rect x="1481" y="458" width="4" height="1" fill="#555555" />
<text x="1490.5" y="462" font-size="11" fill="#640e0e" text-anchor="start" font-weight="normal" textLength="44" lengthAdjust="spacingAndGlyphs" >14.00000</text>
<rect x="1481" y="493" width="4" height="1" fill="#555555" />
<text x="1490.5" y="497" font-size="11" fill="#640e0e" text-anchor="start" font-weight="normal" textLength="44" lengthAdjust="spacingAndGlyphs" >13.50000</text>
<rect x="1481" y="528" width="4" height="1" fill="#555555" />
<text x="1490.5" y="532" font-size="11" fill="#640e0e" text-anchor="start" font-weight="normal" textLength="44" lengthAdjust="spacingAndGlyphs" >13.00000</text>
<rect x="1501.5" y="50.5" width="27" height="17" rx="3.5" fill="#fff8e1" stroke="#d3d6e0" stroke-width="1"/>
<text x="1515" y="63" font-size="11" fill="#640e0e" text-anchor="middle" font-weight="normal" textLength="18.5" lengthAdjust="spacingAndGlyphs" >ZAR</text>
<path d="M1481 444h58a2 2 0 0 1 2 2v27.500h-60z" fill="#c70000"/>
<path d="M1481 473.5h60v13.5a2 2 0 0 1-2 2h-58z" fill="#0505fa"/>
<rect x="1481" y="452" width="4" height="1" fill="#ffffff" />
<rect x="1481" y="481" width="4" height="1" fill="#ffffff" />
<text x="1490.5" y="457" font-size="11" fill="#ffffff" text-anchor="start" font-weight="bold" textLength="44" lengthAdjust="spacingAndGlyphs" >14.08820</text>
<text x="1490.5" y="470" font-size="11" fill="#f3c9c9" text-anchor="start" font-weight="bold" textLength="44" lengthAdjust="spacingAndGlyphs" >23:25:40</text>
<text x="1490.5" y="485" font-size="11" fill="#ffffff" text-anchor="start" font-weight="bold" textLength="44" lengthAdjust="spacingAndGlyphs" >13.92979</text>
<g clip-path="url(#cRsiAx)">
<rect x="1481" y="569" width="4" height="1" fill="#555555" />
<text x="1490.5" y="573" font-size="11" fill="#640e0e" text-anchor="start" font-weight="normal" textLength="27.5" lengthAdjust="spacingAndGlyphs" >80.00</text>
<rect x="1481" y="608" width="4" height="1" fill="#555555" />
<text x="1490.5" y="612" font-size="11" fill="#640e0e" text-anchor="start" font-weight="normal" textLength="27.5" lengthAdjust="spacingAndGlyphs" >60.00</text>
<rect x="1481" y="648" width="4" height="1" fill="#555555" />
<text x="1490.5" y="652" font-size="11" fill="#640e0e" text-anchor="start" font-weight="normal" textLength="27.5" lengthAdjust="spacingAndGlyphs" >40.00</text>
<rect x="1481" y="687" width="4" height="1" fill="#555555" />
<text x="1490.5" y="691" font-size="11" fill="#640e0e" text-anchor="start" font-weight="normal" textLength="27.5" lengthAdjust="spacingAndGlyphs" >20.00</text>
</g>
<g clip-path="url(#cStoAx)">
<rect x="1481" y="692" width="4" height="1" fill="#555555" />
<text x="1490.5" y="696" font-size="11" fill="#640e0e" text-anchor="start" font-weight="normal" textLength="50" lengthAdjust="spacingAndGlyphs" >100.00000</text>
<rect x="1481" y="743" width="4" height="1" fill="#555555" />
<text x="1490.5" y="747" font-size="11" fill="#640e0e" text-anchor="start" font-weight="normal" textLength="38.5" lengthAdjust="spacingAndGlyphs" >0.00000</text>
</g>
<g clip-path="url(#cAtrAx)">
<rect x="1481" y="748" width="4" height="1" fill="#555555" />
<text x="1490.5" y="752" font-size="11" fill="#640e0e" text-anchor="start" font-weight="normal" textLength="38.5" lengthAdjust="spacingAndGlyphs" >0.50000</text>
</g>
<g clip-path="url(#cTime)">
<rect x="69" y="776" width="1" height="4" fill="#555555" />
<text x="69.5" y="791.9" font-size="10.8" fill="#640e0e" text-anchor="middle" font-weight="normal" textLength="17.3" lengthAdjust="spacingAndGlyphs" >Oct</text>
<rect x="145" y="776" width="1" height="4" fill="#555555" />
<text x="146.0" y="791.9" font-size="10.8" fill="#640e0e" text-anchor="middle" font-weight="normal" textLength="5.6" lengthAdjust="spacingAndGlyphs" >4</text>
<rect x="277" y="776" width="1" height="4" fill="#555555" />
<text x="277.5" y="791.9" font-size="10.8" fill="#640e0e" text-anchor="middle" font-weight="bold" textLength="24.7" lengthAdjust="spacingAndGlyphs" >2020</text>
<rect x="411" y="776" width="1" height="4" fill="#555555" />
<text x="412.0" y="791.9" font-size="10.8" fill="#640e0e" text-anchor="middle" font-weight="normal" textLength="17.1" lengthAdjust="spacingAndGlyphs" >Mar</text>
<rect x="552" y="776" width="1" height="4" fill="#555555" />
<text x="552.5" y="791.9" font-size="10.8" fill="#640e0e" text-anchor="middle" font-weight="normal" textLength="18.9" lengthAdjust="spacingAndGlyphs" >May</text>
<rect x="689" y="776" width="1" height="4" fill="#555555" />
<text x="690.0" y="791.9" font-size="10.8" fill="#640e0e" text-anchor="middle" font-weight="normal" textLength="14.1" lengthAdjust="spacingAndGlyphs" >Jul</text>
<rect x="830" y="776" width="1" height="4" fill="#555555" />
<text x="831.0" y="791.9" font-size="10.8" fill="#640e0e" text-anchor="middle" font-weight="normal" textLength="17.1" lengthAdjust="spacingAndGlyphs" >Sep</text>
<rect x="971" y="776" width="1" height="4" fill="#555555" />
<text x="972.0" y="791.9" font-size="10.8" fill="#640e0e" text-anchor="middle" font-weight="normal" textLength="18.0" lengthAdjust="spacingAndGlyphs" >Nov</text>
<rect x="1108" y="776" width="1" height="4" fill="#555555" />
<text x="1109.0" y="791.9" font-size="10.8" fill="#640e0e" text-anchor="middle" font-weight="bold" textLength="24.7" lengthAdjust="spacingAndGlyphs" >2021</text>
<rect x="1236" y="776" width="1" height="4" fill="#555555" />
<text x="1236.5" y="791.9" font-size="10.8" fill="#640e0e" text-anchor="middle" font-weight="normal" textLength="17.1" lengthAdjust="spacingAndGlyphs" >Mar</text>
<rect x="1380" y="776" width="1" height="4" fill="#555555" />
<text x="1381.0" y="791.9" font-size="10.8" fill="#640e0e" text-anchor="middle" font-weight="normal" textLength="18.9" lengthAdjust="spacingAndGlyphs" >May</text>
</g>
<circle cx="36" cy="789" r="9.5" fill="#ededea"/>
<text x="36" y="792.6" font-size="10" fill="#4a4e59" text-anchor="middle" font-weight="normal" >Z</text>
<circle cx="1515" cy="789" r="9.5" fill="#ededea"/>
<text x="1515" y="792.6" font-size="10" fill="#4a4e59" text-anchor="middle" font-weight="normal" >A</text>
<text x="73.5" y="65" font-size="13" fill="#640e0e" text-anchor="start" font-weight="bold" textLength="23.4" lengthAdjust="spacingAndGlyphs" >U.S.</text>
<text x="100.5" y="65" font-size="13" fill="#640e0e" text-anchor="start" font-weight="bold" textLength="33.6" lengthAdjust="spacingAndGlyphs" >Dollar</text>
<text x="139.3" y="65" font-size="13" fill="#640e0e" text-anchor="start" font-weight="bold" textLength="4.3" lengthAdjust="spacingAndGlyphs" >/</text>
<text x="147.2" y="65" font-size="13" fill="#640e0e" text-anchor="start" font-weight="bold" textLength="35.1" lengthAdjust="spacingAndGlyphs" >South</text>
<text x="185.9" y="65" font-size="13" fill="#640e0e" text-anchor="start" font-weight="bold" textLength="42.3" lengthAdjust="spacingAndGlyphs" >African</text>
<text x="230.9" y="65" font-size="13" fill="#640e0e" text-anchor="start" font-weight="bold" textLength="34.1" lengthAdjust="spacingAndGlyphs" >Rand,</text>
<text x="268.6" y="65" font-size="13" fill="#640e0e" text-anchor="start" font-weight="bold" textLength="16.6" lengthAdjust="spacingAndGlyphs" >1D,</text>
<text x="290.6" y="65" font-size="13" fill="#640e0e" text-anchor="start" font-weight="bold" textLength="33.4" lengthAdjust="spacingAndGlyphs" >FXCM</text>
<text x="73.5" y="82.2" font-size="13" fill="#640e0e" text-anchor="start" font-weight="normal" textLength="79.7" lengthAdjust="spacingAndGlyphs" >MA (50, close)</text>
<text x="73.5" y="99.2" font-size="13" fill="#640e0e" text-anchor="start" font-weight="normal" textLength="86.3" lengthAdjust="spacingAndGlyphs" >MA (200, close)</text>
<text x="73.5" y="582" font-size="13" fill="#640e0e" text-anchor="start" font-weight="normal" textLength="78" lengthAdjust="spacingAndGlyphs" >RSI (14, close)</text>
<text x="73.5" y="712" font-size="13" fill="#640e0e" text-anchor="start" font-weight="normal" textLength="96" lengthAdjust="spacingAndGlyphs" >SlowStoch (14, 3)</text>
<text x="73.5" y="769" font-size="13" fill="#640e0e" text-anchor="start" font-weight="normal" textLength="82" lengthAdjust="spacingAndGlyphs" >ATR (14, RMA)</text>
<text x="6.5" y="17" font-size="13" fill="#0c0c0c" text-anchor="start" font-weight="bold" textLength="78.5" lengthAdjust="spacingAndGlyphs" >ForexAnalytix</text>
<text x="88.5" y="17" font-size="13" fill="#0c0c0c" text-anchor="start" font-weight="normal" textLength="51.7" lengthAdjust="spacingAndGlyphs" >published</text>
<text x="144.1" y="17" font-size="13" fill="#0c0c0c" text-anchor="start" font-weight="normal" textLength="13.4" lengthAdjust="spacingAndGlyphs" >on</text>
<text x="161.4" y="17" font-size="13" fill="#0c0c0c" text-anchor="start" font-weight="normal" textLength="101.1" lengthAdjust="spacingAndGlyphs" >TradingView.com,</text>
<text x="267.7" y="17" font-size="13" fill="#0c0c0c" text-anchor="start" font-weight="normal" textLength="23.1" lengthAdjust="spacingAndGlyphs" >May</text>
<text x="295.8" y="17" font-size="13" fill="#0c0c0c" text-anchor="start" font-weight="normal" textLength="15.7" lengthAdjust="spacingAndGlyphs" >20,</text>
<text x="316.5" y="17" font-size="13" fill="#0c0c0c" text-anchor="start" font-weight="normal" textLength="26.0" lengthAdjust="spacingAndGlyphs" >2021</text>
<text x="347.5" y="17" font-size="13" fill="#0c0c0c" text-anchor="start" font-weight="normal" textLength="49.0" lengthAdjust="spacingAndGlyphs" >00:34:22</text>
<text x="401" y="17" font-size="13" fill="#0c0c0c" text-anchor="start" font-weight="normal" textLength="25.1" lengthAdjust="spacingAndGlyphs" >EEST</text>
<text x="6.3" y="34" font-size="13" fill="#0c0c0c" text-anchor="start" font-weight="bold" textLength="70.1" lengthAdjust="spacingAndGlyphs" >FX:USDZAR,</text>
<text x="80.5" y="34" font-size="13" fill="#0c0c0c" text-anchor="start" font-weight="bold" textLength="12.8" lengthAdjust="spacingAndGlyphs" >1D</text>
<text x="100.7" y="34" font-size="13" fill="#0c0c0c" text-anchor="start" font-weight="normal" textLength="51.7" lengthAdjust="spacingAndGlyphs" >14.08820</text>
<path d="M156.2 25.6h10.600l-5.300 8.400z" fill="#ef5350"/>
<text x="170.8" y="34" font-size="13" fill="#0c0c0c" text-anchor="start" font-weight="normal" textLength="51.3" lengthAdjust="spacingAndGlyphs" >−0.00510</text>
<text x="226.6" y="34" font-size="13" fill="#0c0c0c" text-anchor="start" font-weight="normal" textLength="48.7" lengthAdjust="spacingAndGlyphs" >(−0.04%)</text>
<text x="280.5" y="34" font-size="13" fill="#0c0c0c" text-anchor="start" font-weight="bold" textLength="11.7" lengthAdjust="spacingAndGlyphs" >O:</text>
<text x="294.9" y="34" font-size="13" fill="#ef5350" text-anchor="start" font-weight="normal" textLength="51.2" lengthAdjust="spacingAndGlyphs" >14.09330</text>
<text x="351.7" y="34" font-size="13" fill="#0c0c0c" text-anchor="start" font-weight="bold" textLength="12.1" lengthAdjust="spacingAndGlyphs" >H:</text>
<text x="366" y="34" font-size="13" fill="#ef5350" text-anchor="start" font-weight="normal" textLength="52" lengthAdjust="spacingAndGlyphs" >14.10410</text>
<text x="422.6" y="34" font-size="13" fill="#0c0c0c" text-anchor="start" font-weight="bold" textLength="8.8" lengthAdjust="spacingAndGlyphs" >L:</text>
<text x="433.7" y="34" font-size="13" fill="#ef5350" text-anchor="start" font-weight="normal" textLength="52.3" lengthAdjust="spacingAndGlyphs" >14.08820</text>
<text x="490" y="34" font-size="13" fill="#0c0c0c" text-anchor="start" font-weight="bold" textLength="10.8" lengthAdjust="spacingAndGlyphs" >C:</text>
<text x="502.6" y="34" font-size="13" fill="#ef5350" text-anchor="start" font-weight="normal" textLength="52.4" lengthAdjust="spacingAndGlyphs" >14.08820</text>
<g id="logo" fill="#2196f3">
<circle cx="10.3" cy="824.4" r="4.6"/><circle cx="17.2" cy="820.1" r="6.3"/><circle cx="25.4" cy="820.7" r="2.7"/><circle cx="28.2" cy="825.1" r="4"/>
<path d="M10 829.1h18.500v-8h-18.500z"/>
<path d="M6.300 827l9.500-7.300 6.200 5.600 7.200-6.900" fill="none" stroke="#ffffff" stroke-width="1.150"/>
<circle cx="15.800" cy="819.700" r="1.950" fill="#ffffff"/><circle cx="22" cy="825.300" r="2" fill="#ffffff"/>
</g>
<text x="33.9" y="825.8" font-size="12.3" fill="#131722" text-anchor="start" font-weight="normal" textLength="70.8" lengthAdjust="spacingAndGlyphs" >TradingView</text>
</svg>
</body></html>
